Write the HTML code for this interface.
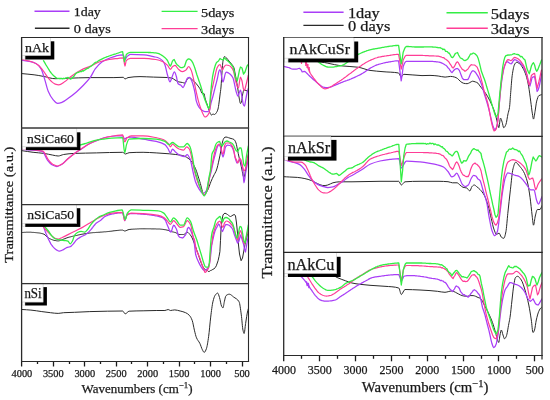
<!DOCTYPE html><html><head><meta charset="utf-8"><style>html,body{margin:0;padding:0;background:#fff;width:550px;height:400px;overflow:hidden}svg{display:block}text{font-family:"Liberation Serif",serif;fill:#1a1a1a;stroke:#1a1a1a;stroke-width:0.25px}</style></head><body>
<svg width="550" height="400" viewBox="0 0 550 400">
<rect width="550" height="400" fill="#fff"/>
<defs>
<clipPath id="cp_nAk"><rect x="21.9" y="37.5" width="226.4" height="90.5"/></clipPath>
<clipPath id="cp_c60"><rect x="21.9" y="128.0" width="226.4" height="76.6"/></clipPath>
<clipPath id="cp_c50"><rect x="21.9" y="204.6" width="226.4" height="79.00000000000003"/></clipPath>
<clipPath id="cp_nSi"><rect x="21.9" y="283.6" width="226.4" height="77.89999999999998"/></clipPath>
<clipPath id="cp_r1"><rect x="284.0" y="37.5" width="257.9" height="98.80000000000001"/></clipPath>
<clipPath id="cp_r2"><rect x="284.0" y="136.3" width="257.9" height="116.1"/></clipPath>
<clipPath id="cp_r3"><rect x="284.0" y="252.4" width="257.9" height="103.1"/></clipPath>
</defs>
<g clip-path="url(#cp_nAk)" fill="none" stroke-linejoin="round" stroke-linecap="round">
<path d="M21.9,73.6 C26.0,74.0 30.0,74.3 34.1,74.8 C37.2,75.2 40.4,75.8 43.5,76.4 C47.4,77.1 51.3,78.7 55.2,78.7 C59.1,78.7 63.1,78.4 67.0,78.3 C74.8,78.0 82.7,77.6 90.5,77.6 C98.3,77.6 106.1,77.6 113.9,77.6 C117.0,77.6 120.2,77.3 123.3,77.3 C123.9,77.3 124.4,79.0 125.0,79.0 C126.0,79.0 127.0,77.8 128.0,77.6 C132.0,76.9 136.0,76.6 140.0,76.6 C144.5,76.6 149.0,77.0 153.5,77.1 C158.2,77.3 162.8,77.3 167.5,77.5 C169.0,77.6 170.4,77.8 171.9,78.1 C172.9,78.3 174.0,79.4 175.0,80.0 C176.3,80.7 177.5,81.6 178.8,81.9 C180.0,82.2 181.3,82.3 182.5,82.5 C183.3,82.7 184.2,83.1 185.0,83.1 C185.8,83.1 186.7,79.5 187.5,78.8 C188.1,78.3 188.8,77.8 189.4,77.8 C190.4,77.8 191.5,79.1 192.5,80.0 C193.8,81.0 195.0,82.3 196.3,83.8 C197.5,85.2 198.8,86.8 200.0,88.8 C200.8,90.2 201.7,93.8 202.5,93.8 C203.0,93.8 203.5,93.5 204.0,93.5 C204.3,93.5 204.7,96.8 205.0,98.0 C205.7,100.5 206.3,102.0 207.0,104.0 C207.7,106.0 208.3,108.1 209.0,110.0 C209.5,111.4 210.0,113.3 210.5,114.0 C210.8,114.5 211.2,115.0 211.5,115.0 C212.0,115.0 212.5,114.0 213.0,114.0 C213.5,114.0 214.0,114.5 214.5,114.5 C215.2,114.5 215.8,113.5 216.5,112.5 C217.0,111.8 217.5,110.7 218.0,109.0 C218.3,107.8 218.7,105.3 219.0,103.0 C219.3,100.7 219.7,97.7 220.0,95.0 C220.3,92.3 220.7,90.5 221.0,87.0 C221.3,83.5 221.7,76.2 222.0,72.0 C222.3,67.8 222.7,62.6 223.0,61.0 C223.5,58.5 224.0,56.5 224.5,56.5 C225.2,56.5 225.8,57.4 226.5,58.0 C227.3,58.8 228.2,60.0 229.0,61.0 C229.8,62.0 230.7,62.9 231.5,64.0 C232.3,65.1 233.2,65.8 234.0,68.0 C234.3,68.9 234.7,71.3 235.0,73.0 C235.5,75.6 236.0,78.2 236.5,81.0 C237.0,83.8 237.5,86.8 238.0,90.0 C238.3,92.2 238.7,95.2 239.0,97.0 C239.5,99.7 240.0,103.5 240.5,103.5 C240.8,103.5 241.2,102.8 241.5,102.0 C241.8,101.2 242.2,96.5 242.5,95.0 C243.0,92.7 243.5,90.0 244.0,90.0 C244.7,90.0 245.3,90.3 246.0,90.5 C246.8,90.7 247.5,91.2 248.3,91.5" stroke="#2a2a2a" stroke-width="1.0"/>
<path d="M21.9,60.2 C24.4,60.6 26.9,60.9 29.4,61.4 C31.7,61.9 34.1,62.5 36.4,63.7 C38.0,64.5 39.5,66.3 41.1,68.9 C42.3,70.9 43.5,75.6 44.7,79.4 C45.9,83.1 47.0,88.5 48.2,91.2 C49.8,94.9 51.3,97.6 52.9,99.4 C54.5,101.2 56.0,103.4 57.6,103.4 C59.2,103.4 60.7,102.8 62.3,102.2 C64.6,101.4 67.0,99.2 69.3,97.5 C71.7,95.8 74.0,93.9 76.4,91.9 C78.7,89.9 81.1,87.7 83.4,85.3 C85.8,82.8 88.1,80.4 90.5,77.1 C92.1,74.9 93.6,70.9 95.2,68.9 C97.5,65.9 99.9,63.4 102.2,61.8 C104.5,60.2 106.9,59.2 109.2,58.3 C112.3,57.1 115.5,55.8 118.6,55.3 C120.2,55.1 121.7,54.8 123.3,54.8 C123.9,54.8 124.4,59.5 125.0,59.5 C125.6,59.5 126.3,57.3 126.9,56.7 C128.1,55.6 129.2,54.3 130.4,54.3 C135.0,54.3 139.5,54.5 144.1,54.8 C147.2,55.0 150.4,56.1 153.5,56.7 C154.8,57.0 156.2,57.1 157.5,57.5 C159.2,58.0 160.8,59.0 162.5,60.6 C163.3,61.4 164.2,63.0 165.0,65.0 C165.8,67.0 166.7,72.3 167.5,75.0 C168.3,77.7 169.2,81.9 170.0,81.9 C170.6,81.9 171.3,78.9 171.9,77.5 C172.7,75.6 173.6,71.9 174.4,71.9 C175.0,71.9 175.7,74.4 176.3,76.3 C176.9,78.1 177.5,83.3 178.1,83.8 C178.9,84.5 179.8,84.5 180.6,85.0 C181.4,85.5 182.3,87.5 183.1,87.5 C183.7,87.5 184.4,85.1 185.0,83.8 C185.8,82.1 186.7,78.7 187.5,78.1 C188.1,77.7 188.8,77.3 189.4,77.3 C190.2,77.3 191.1,79.5 191.9,81.3 C192.5,82.7 193.2,85.1 193.8,87.5 C194.3,89.3 194.7,91.4 195.2,94.0 C195.5,95.8 195.9,99.4 196.2,100.6 C197.2,104.4 198.3,106.3 199.3,107.6 C200.5,109.1 201.6,110.1 202.8,110.7 C203.5,111.1 204.3,111.5 205.0,111.5 C206.0,111.5 207.0,111.5 208.0,111.5 C208.5,111.5 209.0,110.8 209.5,110.0 C210.0,109.2 210.5,105.0 211.0,103.0 C211.7,100.3 212.3,98.5 213.0,96.0 C213.5,94.1 214.0,92.0 214.5,90.0 C215.0,88.0 215.5,86.0 216.0,84.0 C216.5,82.0 217.0,80.2 217.5,78.0 C218.0,75.8 218.5,72.1 219.0,71.0 C219.3,70.3 219.7,69.5 220.0,69.5 C220.3,69.5 220.7,71.5 221.0,73.0 C221.3,74.5 221.7,77.7 222.0,79.0 C222.3,80.3 222.7,82.0 223.0,82.0 C223.3,82.0 223.7,80.1 224.0,79.0 C224.5,77.3 225.0,73.8 225.5,73.0 C225.8,72.5 226.2,72.0 226.5,72.0 C227.2,72.0 227.8,72.6 228.5,73.0 C229.3,73.5 230.2,74.1 231.0,75.0 C231.7,75.7 232.3,76.5 233.0,78.0 C233.5,79.1 234.0,81.8 234.5,84.0 C235.0,86.2 235.5,89.3 236.0,91.0 C236.7,93.2 237.3,96.0 238.0,96.0 C238.5,96.0 239.0,93.1 239.5,92.0 C239.8,91.2 240.2,90.0 240.5,90.0 C241.0,90.0 241.5,94.5 242.0,97.0 C242.5,99.5 243.0,104.2 243.5,105.0 C243.8,105.5 244.2,106.0 244.5,106.0 C244.8,106.0 245.2,102.7 245.5,101.0 C246.0,98.4 246.5,95.1 247.0,93.0 C247.4,91.2 247.9,90.0 248.3,88.5" stroke="#a93ef7" stroke-width="1.25"/>
<path d="M21.9,59.5 C25.2,60.3 28.4,60.7 31.7,61.8 C34.1,62.6 36.4,63.6 38.8,65.4 C40.4,66.6 41.9,69.2 43.5,71.2 C45.5,73.8 47.4,77.4 49.4,79.4 C51.3,81.4 53.3,83.5 55.2,84.1 C56.4,84.5 57.6,84.8 58.8,84.8 C60.7,84.8 62.7,83.0 64.6,81.8 C67.0,80.3 69.3,77.6 71.7,75.9 C74.8,73.7 78.0,71.7 81.1,70.1 C84.2,68.5 87.4,67.5 90.5,66.1 C93.6,64.7 96.7,62.8 99.8,61.8 C102.9,60.8 106.1,60.0 109.2,59.5 C112.3,59.0 115.5,58.7 118.6,58.3 C120.2,58.1 121.7,57.8 123.3,57.8 C123.9,57.8 124.4,66.1 125.0,66.1 C125.4,66.1 125.8,61.2 126.2,60.7 C127.6,59.0 129.0,58.3 130.4,58.3 C135.0,58.3 139.5,58.3 144.1,58.3 C148.0,58.3 151.9,58.9 155.8,59.5 C158.2,59.9 160.5,60.7 162.9,61.8 C164.5,62.5 166.0,63.8 167.6,65.4 C168.5,66.3 169.5,69.3 170.4,69.3 C171.2,69.3 171.9,67.0 172.7,66.5 C173.5,66.0 174.3,65.4 175.1,65.4 C176.1,65.4 177.1,68.0 178.1,68.9 C179.4,70.1 180.8,71.7 182.1,71.7 C183.4,71.7 184.6,70.9 185.9,70.1 C186.8,69.5 187.8,66.5 188.7,66.5 C189.5,66.5 190.3,68.4 191.1,70.1 C191.9,71.7 192.6,75.1 193.4,78.3 C194.2,81.6 195.0,86.4 195.8,90.0 C197.0,95.2 198.1,100.3 199.3,104.1 C200.5,107.9 201.6,111.2 202.8,113.5 C203.5,114.9 204.3,117.0 205.0,117.0 C205.7,117.0 206.3,116.5 207.0,116.0 C207.7,115.5 208.3,114.6 209.0,113.0 C209.3,112.2 209.7,110.4 210.0,108.0 C210.3,105.6 210.7,97.5 211.0,95.0 C211.7,89.9 212.3,88.2 213.0,85.0 C213.7,81.8 214.3,78.8 215.0,76.0 C215.7,73.2 216.3,69.5 217.0,68.0 C217.7,66.5 218.3,65.5 219.0,65.0 C219.3,64.8 219.7,64.5 220.0,64.5 C220.5,64.5 221.0,66.9 221.5,68.0 C221.8,68.7 222.2,70.0 222.5,70.0 C223.0,70.0 223.5,67.7 224.0,67.0 C224.7,66.1 225.3,65.0 226.0,65.0 C227.0,65.0 228.0,65.2 229.0,65.5 C229.8,65.7 230.7,66.6 231.5,67.5 C232.2,68.2 232.8,69.3 233.5,71.0 C234.0,72.3 234.5,75.8 235.0,78.0 C235.4,79.8 235.8,81.6 236.2,83.0 C236.6,84.5 237.1,86.4 237.5,87.0 C237.8,87.5 238.2,88.0 238.5,88.0 C238.8,88.0 239.2,83.8 239.5,82.0 C239.8,80.2 240.2,77.0 240.5,77.0 C241.0,77.0 241.5,79.2 242.0,81.0 C242.5,82.8 243.0,87.9 243.5,89.0 C243.8,89.8 244.2,90.5 244.5,90.5 C244.8,90.5 245.2,88.2 245.5,87.0 C246.0,85.1 246.5,83.1 247.0,81.0 C247.4,79.1 247.9,77.0 248.3,75.0" stroke="#ff3d96" stroke-width="1.2"/>
<path d="M43.5,60.7 L44.7,62.7 L45.8,64.6 L47.0,66.5 L47.9,68.0 L48.9,69.6 L49.8,71.1 L50.8,72.5 L51.7,73.6 L52.7,74.7 L53.7,75.7 L54.7,76.6 L55.6,77.4 L56.6,78.0 L57.6,78.3 L58.6,78.4 L59.5,78.5 L60.5,78.5 L61.5,78.4 L62.4,78.8 L63.4,78.4 L64.3,78.6 L65.3,78.3 L66.2,77.8 L67.2,77.9 L68.1,77.4 L69.3,78.5 L70.5,79.1 L71.7,78.4 L72.8,77.3 L74.0,76.2 L75.2,74.3 L76.3,73.1 L77.5,72.5 L78.5,72.4 L79.5,71.8 L80.5,71.5 L81.4,71.7 L82.4,70.7 L83.4,71.1 L84.4,70.2 L85.4,69.6 L86.4,68.9 L87.5,68.4 L88.5,68.1 L89.5,66.9 L90.5,66.6 L91.4,65.9 L92.4,65.0 L93.3,64.4 L94.3,63.3 L95.2,62.6 L96.2,62.1 L97.2,61.8 L98.2,61.0 L99.2,60.3 L100.2,59.8 L101.2,59.3 L102.2,58.8 L103.2,58.3 L104.2,57.9 L105.2,57.5 L106.2,57.1 L107.2,56.7 L108.2,56.4 L109.2,56.0 L110.1,55.7 L111.1,55.3 L112.0,55.0 L113.0,54.7 L113.9,54.4 L114.8,54.1 L115.8,53.8 L116.7,53.5 L117.7,53.2 L118.6,52.9 L119.6,52.5 L120.6,52.1 L121.6,51.8 L122.6,51.7 L123.5,56.8 L124.5,61.8 L126.2,54.8 L127.2,53.8 L128.3,53.0 L129.3,52.6 L130.4,52.4 L131.3,52.4 L132.2,52.4 L133.1,52.4 L134.1,52.4 L135.0,52.4 L135.9,52.4 L136.8,52.4 L137.7,52.4 L138.6,52.4 L139.5,52.4 L140.4,52.4 L141.4,52.4 L142.3,52.4 L143.2,52.4 L144.1,52.4 L145.0,52.4 L145.9,52.4 L146.8,52.4 L147.7,52.4 L148.6,52.5 L149.5,52.5 L150.4,52.5 L151.3,52.6 L152.2,52.6 L153.1,52.7 L154.0,52.8 L154.9,52.8 L155.8,52.9 L156.8,53.1 L157.8,53.3 L158.8,53.7 L159.9,54.2 L160.9,54.8 L161.9,55.4 L162.9,56.0 L163.8,56.7 L164.8,57.5 L165.7,58.4 L166.7,59.5 L167.6,60.7 L168.5,62.7 L169.5,65.0 L170.4,66.1 L171.4,64.1 L172.3,61.4 L173.2,60.1 L174.2,59.5 L175.8,63.0 L176.9,64.4 L178.1,65.4 L179.1,66.4 L180.2,67.3 L181.2,67.7 L182.3,67.6 L183.4,67.2 L184.5,66.5 L185.4,63.7 L186.4,60.7 L187.6,59.4 L188.7,58.8 L189.6,59.1 L190.6,59.8 L191.5,60.7 L192.7,62.6 L193.9,65.4 L194.9,68.2 L195.9,71.5 L196.9,74.8 L198.1,78.3 L199.3,81.7 L200.5,85.3 L201.7,89.2 L202.8,93.3 L204.0,97.1 L205.0,100.0 L206.0,102.6 L207.0,105.0 L208.5,108.5 L209.5,107.0 L210.5,95.0 L211.5,85.0 L212.5,77.0 L213.5,71.9 L214.5,68.0 L215.5,64.7 L216.5,62.5 L217.5,61.7 L218.5,61.0 L220.0,58.5 L221.5,59.5 L223.0,60.0 L224.5,58.0 L225.5,58.8 L226.5,60.0 L227.8,61.0 L229.0,62.0 L230.2,63.4 L231.5,65.0 L232.5,66.2 L233.5,68.0 L235.0,76.0 L236.0,79.0 L237.2,81.0 L238.5,75.0 L239.5,69.9 L240.5,67.0 L242.0,68.0 L243.5,74.0 L245.0,72.0 L246.0,69.0 L247.0,66.0 L248.3,64.5" stroke="#33ee44" stroke-width="1.3"/>
</g>
<g clip-path="url(#cp_c60)" fill="none" stroke-linejoin="round" stroke-linecap="round">
<path d="M22.2,150.7 C25.8,151.2 29.5,151.9 33.1,152.3 C36.7,152.7 40.4,152.9 44.0,153.4 C46.9,153.8 49.8,154.6 52.7,155.1 C54.5,155.4 56.4,156.0 58.2,156.0 C60.0,156.0 61.8,154.8 63.6,154.5 C67.2,153.9 70.9,153.5 74.5,153.4 C81.8,153.1 89.1,153.1 96.4,152.9 C105.1,152.7 113.9,152.3 122.6,152.3 C123.5,152.3 124.5,154.0 125.4,154.0 C126.6,154.0 127.9,152.8 129.1,152.7 C133.8,152.4 138.4,152.3 143.1,152.3 C147.5,152.3 151.8,152.7 156.2,152.9 C160.6,153.1 164.9,153.4 169.3,153.8 C171.5,154.0 173.6,154.2 175.8,154.5 C178.0,154.8 180.2,155.0 182.4,155.5 C183.8,155.8 185.3,156.5 186.7,157.3 C188.2,158.1 189.6,159.3 191.1,161.0 C192.6,162.7 194.0,165.4 195.5,168.6 C196.9,171.8 198.4,177.4 199.8,181.7 C201.3,186.1 202.7,194.8 204.2,194.8 C205.3,194.8 206.4,192.4 207.5,190.5 C208.7,188.5 209.8,184.3 211.0,181.5 C211.8,179.5 212.7,177.7 213.5,176.0 C214.5,173.9 215.5,172.7 216.5,170.0 C217.3,167.8 218.2,163.7 219.0,160.0 C219.7,157.0 220.3,153.4 221.0,150.0 C221.5,147.4 222.0,143.8 222.5,142.0 C223.0,140.2 223.5,138.4 224.0,138.0 C224.7,137.4 225.3,137.0 226.0,137.0 C226.8,137.0 227.7,137.5 228.5,137.7 C229.3,137.9 230.2,138.2 231.0,138.5 C232.0,138.8 233.0,138.9 234.0,139.5 C234.7,139.9 235.3,141.3 236.0,143.0 C236.5,144.3 237.0,147.7 237.5,150.0 C238.0,152.3 238.5,154.8 239.0,157.0 C239.5,159.2 240.0,160.8 240.5,163.0 C241.0,165.2 241.5,167.6 242.0,170.0 C242.4,171.9 242.8,174.9 243.2,176.0 C243.4,176.6 243.7,177.4 243.9,177.4 C244.6,177.4 245.4,170.3 246.1,166.5 C246.9,162.3 247.7,157.8 248.5,153.4" stroke="#2a2a2a" stroke-width="1.0"/>
<path d="M22.2,149.5 C28.9,150.1 35.5,150.0 42.2,151.4 C44.0,151.8 45.8,158.0 47.6,160.3 C49.0,162.1 50.5,164.1 51.9,164.8 C53.6,165.7 55.2,166.5 56.9,166.5 C58.6,166.5 60.2,165.3 61.9,164.3 C63.7,163.2 65.5,160.9 67.3,159.3 C69.5,157.4 71.7,155.6 73.9,154.0 C76.1,152.3 78.4,150.9 80.6,149.4 C83.7,147.4 86.7,145.1 89.8,143.5 C92.7,142.0 95.6,140.9 98.5,139.8 C101.4,138.7 104.4,137.5 107.3,137.0 C110.2,136.5 113.1,136.1 116.0,136.0 C118.2,135.9 120.4,135.8 122.6,135.8 C123.3,135.8 124.0,139.0 124.7,139.0 C125.4,139.0 126.2,137.7 126.9,137.5 C128.4,137.2 129.8,137.0 131.3,137.0 C135.2,137.0 139.2,138.5 143.1,139.2 C147.5,140.0 151.8,140.4 156.2,141.4 C159.1,142.1 162.0,142.8 164.9,144.6 C166.0,145.3 167.1,147.3 168.2,149.0 C168.9,150.1 169.7,152.9 170.4,152.9 C171.1,152.9 171.8,149.0 172.5,149.0 C173.6,149.0 174.7,151.4 175.8,152.3 C177.3,153.5 178.7,154.9 180.2,155.5 C181.6,156.0 183.1,156.6 184.5,156.6 C185.4,156.6 186.3,154.5 187.2,154.5 C188.1,154.5 189.1,156.7 190.0,158.8 C191.1,161.3 192.2,168.5 193.3,173.0 C194.0,176.0 194.8,179.7 195.5,181.7 C196.6,184.6 197.6,186.6 198.7,188.3 C200.2,190.6 201.6,193.7 203.1,193.7 C204.2,193.7 205.3,192.3 206.4,190.5 C207.3,189.1 208.1,183.0 209.0,179.5 C209.8,176.2 210.7,173.5 211.5,170.0 C212.0,167.9 212.5,165.2 213.0,163.0 C213.7,160.1 214.3,157.5 215.0,155.0 C215.7,152.5 216.3,149.6 217.0,148.0 C217.7,146.4 218.3,144.5 219.0,144.5 C219.5,144.5 220.0,145.8 220.5,147.0 C221.0,148.2 221.5,152.2 222.0,154.0 C222.3,155.2 222.7,157.0 223.0,157.0 C223.3,157.0 223.7,155.2 224.0,154.0 C224.5,152.2 225.0,147.8 225.5,147.0 C226.2,145.9 226.8,145.0 227.5,145.0 C228.3,145.0 229.2,145.2 230.0,145.5 C230.7,145.7 231.3,146.2 232.0,147.0 C232.7,147.8 233.3,149.8 234.0,152.0 C234.5,153.7 235.0,157.3 235.5,159.0 C236.0,160.7 236.5,163.0 237.0,163.0 C237.5,163.0 238.0,161.7 238.5,161.0 C239.0,160.3 239.5,159.0 240.0,159.0 C240.5,159.0 241.0,162.1 241.5,164.0 C242.0,165.9 242.5,167.4 243.0,171.0 C243.3,173.2 243.6,182.8 243.9,182.8 C244.5,182.8 245.0,176.1 245.6,173.0 C246.6,167.7 247.5,162.8 248.5,157.7" stroke="#a93ef7" stroke-width="1.25"/>
<path d="M22.2,149.0 C29.1,149.7 36.0,149.5 42.9,151.2 C44.7,151.6 46.6,157.6 48.4,159.9 C49.8,161.7 51.3,163.5 52.7,164.3 C54.3,165.1 55.9,166.0 57.5,166.0 C59.2,166.0 60.8,164.8 62.5,163.8 C64.3,162.7 66.2,160.4 68.0,158.8 C70.2,156.9 72.3,155.0 74.5,153.4 C76.7,151.8 78.9,150.4 81.1,149.0 C84.0,147.1 86.9,145.0 89.8,143.5 C92.7,142.0 95.6,140.9 98.5,139.8 C101.4,138.7 104.4,137.7 107.3,137.0 C110.2,136.4 113.1,135.9 116.0,135.5 C118.2,135.2 120.4,134.8 122.6,134.8 C123.3,134.8 124.0,142.0 124.7,142.0 C125.4,142.0 126.2,138.7 126.9,138.1 C128.4,136.9 129.8,135.9 131.3,135.9 C135.2,135.9 139.2,135.9 143.1,135.9 C147.5,135.9 151.8,136.9 156.2,137.7 C158.7,138.2 161.3,138.7 163.8,139.8 C165.3,140.4 166.7,141.9 168.2,143.5 C168.9,144.3 169.7,146.8 170.4,146.8 C171.1,146.8 171.8,144.2 172.5,144.2 C173.6,144.2 174.7,146.0 175.8,146.8 C176.9,147.6 178.0,148.6 179.1,149.0 C180.6,149.5 182.0,150.1 183.5,150.1 C184.6,150.1 185.6,146.8 186.7,146.8 C187.6,146.8 188.4,147.8 189.3,149.0 C190.3,150.3 191.2,155.7 192.2,159.9 C192.9,163.1 193.7,167.8 194.4,170.8 C195.5,175.2 196.5,178.7 197.6,181.7 C198.7,184.7 199.8,187.3 200.9,189.4 C202.0,191.5 203.1,194.8 204.2,194.8 C205.3,194.8 206.4,192.3 207.5,189.4 C208.4,187.0 209.4,177.5 210.3,173.0 C210.5,171.9 210.8,171.1 211.0,170.0 C211.7,167.0 212.3,163.2 213.0,160.0 C213.7,156.8 214.3,153.1 215.0,151.0 C215.7,148.9 216.3,147.0 217.0,146.0 C217.7,145.0 218.3,144.0 219.0,144.0 C219.3,144.0 219.7,144.5 220.0,145.0 C220.5,145.7 221.0,148.2 221.5,150.0 C221.8,151.2 222.2,154.0 222.5,154.0 C222.8,154.0 223.2,153.6 223.5,153.0 C223.8,152.4 224.2,146.9 224.5,146.0 C225.2,144.2 225.8,143.0 226.5,143.0 C227.3,143.0 228.2,143.0 229.0,143.0 C229.8,143.0 230.7,144.0 231.5,145.0 C232.2,145.8 232.8,147.0 233.5,149.0 C234.0,150.5 234.5,155.5 235.0,157.0 C235.5,158.5 236.0,159.0 236.5,160.0 C237.0,161.0 237.5,163.0 238.0,163.0 C238.5,163.0 239.0,158.0 239.5,158.0 C240.0,158.0 240.5,159.0 241.0,160.0 C241.5,161.0 242.0,164.2 242.5,166.0 C243.0,167.8 243.5,171.0 244.0,171.0 C244.5,171.0 245.1,169.8 245.6,168.6 C246.6,166.5 247.5,158.5 248.5,153.4" stroke="#ff3d96" stroke-width="1.2"/>
<path d="M78.0,145.6 C80.5,144.9 83.0,144.2 85.5,143.5 C88.4,142.6 91.3,141.4 94.2,140.7 C97.1,140.0 100.0,139.6 102.9,139.2 C105.8,138.8 108.7,138.3 111.6,138.1 C115.3,137.9 118.9,137.7 122.6,137.7 C123.3,137.7 124.0,152.9 124.7,152.9 C125.3,152.9 125.9,146.4 126.5,144.6 C127.4,142.1 128.2,139.3 129.1,139.2 C132.7,138.6 136.4,138.5 140.0,138.5 C141.0,138.5 142.1,138.5 143.1,138.5 C147.5,138.5 151.8,138.8 156.2,139.2 C159.1,139.5 162.0,140.3 164.9,141.4 C166.4,142.0 167.8,144.6 169.3,144.6 C170.4,144.6 171.4,142.5 172.5,142.5 C173.6,142.5 174.7,143.9 175.8,144.6 C176.9,145.3 178.0,146.8 179.1,146.8 C180.6,146.8 182.0,146.8 183.5,146.8 C184.7,146.8 186.0,143.5 187.2,143.5 C188.1,143.5 189.1,145.1 190.0,146.8 C190.7,148.2 191.5,152.0 192.2,155.5 C192.9,159.0 193.7,165.4 194.4,168.6 C195.5,173.3 196.5,176.1 197.6,179.5 C198.7,183.0 199.8,186.8 200.9,189.4 C202.0,192.0 203.1,195.9 204.2,195.9 C205.1,195.9 205.9,193.2 206.8,190.5 C207.5,188.2 208.3,181.3 209.0,177.4 C209.5,174.7 210.0,173.4 210.5,170.0 C211.0,166.6 211.5,155.7 212.0,154.0 C212.7,151.7 213.3,151.6 214.0,150.0 C214.7,148.4 215.3,145.0 216.0,144.0 C216.7,143.0 217.3,142.3 218.0,142.0 C218.5,141.8 219.0,141.5 219.5,141.5 C220.0,141.5 220.5,144.3 221.0,145.0 C221.3,145.5 221.7,146.0 222.0,146.0 C222.5,146.0 223.0,144.7 223.5,144.0 C224.0,143.3 224.5,142.4 225.0,142.0 C225.7,141.5 226.3,141.0 227.0,141.0 C227.8,141.0 228.7,141.6 229.5,142.0 C230.2,142.3 230.8,142.6 231.5,143.0 C232.2,143.4 232.8,144.0 233.5,145.0 C234.0,145.7 234.5,147.5 235.0,148.5 C235.5,149.5 236.0,151.0 236.5,151.0 C237.0,151.0 237.5,151.0 238.0,151.0 C238.5,151.0 239.0,148.0 239.5,148.0 C240.0,148.0 240.5,148.0 241.0,148.0 C241.5,148.0 242.0,153.2 242.5,156.0 C243.0,158.8 243.5,164.2 244.0,165.0 C244.3,165.5 244.7,166.0 245.0,166.0 C245.5,166.0 246.0,159.0 246.5,156.0 C247.1,152.4 247.7,149.3 248.3,146.0" stroke="#33ee44" stroke-width="1.3"/>
</g>
<g clip-path="url(#cp_c50)" fill="none" stroke-linejoin="round" stroke-linecap="round">
<path d="M21.5,232.5 L22.5,232.5 L23.6,232.4 L24.6,232.3 L25.6,232.3 L26.6,232.2 L27.7,232.2 L28.7,232.2 L29.7,232.2 L30.6,232.2 L31.6,232.3 L32.6,232.4 L33.5,232.4 L34.5,232.5 L35.5,232.6 L36.5,232.7 L37.5,232.8 L38.4,232.9 L39.4,233.0 L40.4,233.2 L41.3,233.4 L42.2,233.6 L43.1,233.9 L44.0,234.2 L45.0,234.9 L45.9,235.9 L46.9,236.8 L47.8,237.4 L48.7,238.0 L49.6,238.6 L50.5,239.0 L51.6,239.5 L52.7,239.9 L53.8,240.3 L54.9,240.5 L55.8,240.6 L56.7,240.8 L57.6,240.9 L58.5,240.9 L59.6,240.7 L60.7,240.3 L61.8,239.9 L62.9,239.4 L63.9,239.0 L64.9,238.6 L66.0,238.2 L67.0,237.8 L68.0,237.5 L68.9,237.2 L69.8,237.0 L70.7,236.8 L71.7,236.5 L72.6,236.3 L73.5,236.1 L74.4,235.9 L75.3,235.7 L76.3,235.5 L77.2,235.3 L78.2,235.0 L79.2,234.8 L80.1,234.6 L81.1,234.4 L82.1,234.2 L83.0,234.1 L84.0,233.9 L85.0,233.7 L85.9,233.6 L86.9,233.4 L87.9,233.3 L88.8,233.2 L89.8,233.0 L90.8,232.9 L91.7,232.8 L92.7,232.7 L93.6,232.6 L94.5,232.6 L95.4,232.5 L96.3,232.4 L97.3,232.4 L98.2,232.3 L99.1,232.3 L100.0,232.2 L100.9,232.1 L101.8,232.1 L102.7,232.0 L103.7,231.9 L104.6,231.8 L105.5,231.8 L106.4,231.7 L107.3,231.6 L108.3,231.5 L109.2,231.4 L110.2,231.3 L111.1,231.2 L112.1,231.1 L113.0,230.9 L114.0,230.8 L114.9,230.7 L115.9,230.6 L116.9,230.5 L117.8,230.4 L118.8,230.3 L119.7,230.2 L120.7,230.1 L121.6,230.1 L122.6,230.1 L123.7,230.6 L124.7,231.0 L125.8,230.8 L126.9,230.3 L128.0,229.8 L129.1,229.5 L130.0,229.4 L131.0,229.3 L131.9,229.2 L132.8,229.2 L133.8,229.1 L134.7,229.1 L135.6,229.0 L136.6,229.0 L137.5,228.9 L138.4,228.9 L139.4,228.8 L140.3,228.8 L141.2,228.8 L142.2,228.8 L143.1,228.8 L144.0,228.8 L144.9,228.8 L145.8,228.8 L146.7,228.8 L147.6,228.8 L148.5,228.8 L149.4,228.8 L150.3,228.8 L151.2,228.9 L152.1,228.9 L153.0,228.9 L153.9,228.9 L154.8,228.9 L155.7,228.9 L156.6,229.0 L157.5,229.0 L158.4,229.0 L159.4,229.0 L160.3,229.1 L161.3,229.2 L162.3,229.3 L163.2,229.4 L164.2,229.6 L165.2,229.7 L166.1,229.9 L167.1,230.1 L168.2,230.4 L169.3,230.8 L170.4,231.2 L171.5,231.6 L172.6,231.9 L173.7,232.1 L174.7,232.4 L175.8,232.7 L176.9,233.3 L178.0,234.1 L179.1,234.5 L180.2,234.5 L181.3,234.5 L182.4,234.5 L183.5,234.5 L184.4,234.2 L185.3,233.4 L186.3,232.6 L187.2,232.3 L188.2,232.6 L189.1,233.5 L190.1,234.7 L191.1,236.0 L192.2,238.0 L193.3,240.7 L194.4,243.6 L195.5,246.4 L196.5,249.4 L197.6,252.4 L198.7,255.7 L199.8,259.2 L200.9,262.2 L201.9,264.7 L202.9,266.9 L203.9,268.4 L205.1,269.5 L206.3,270.1 L207.3,270.4 L208.2,271.4 L209.2,271.5 L210.4,270.6 L211.6,270.2 L212.8,269.4 L214.0,268.8 L215.2,267.7 L216.3,265.8 L218.1,260.6 L219.0,256.6 L219.9,251.7 L220.5,240.3 L221.0,229.7 L222.0,220.0 L223.0,215.0 L224.0,213.7 L225.0,213.2 L226.2,213.7 L227.5,214.5 L228.5,215.3 L229.5,216.1 L230.5,216.5 L231.8,215.9 L233.0,215.0 L234.5,214.5 L235.5,216.0 L236.5,223.0 L237.5,233.0 L238.5,245.0 L239.5,254.0 L241.1,260.7 L242.5,258.0 L244.0,250.0 L245.0,244.7 L246.0,240.0 L247.2,235.8 L248.3,232.0" stroke="#2a2a2a" stroke-width="1.0"/>
<path d="M41.5,223.5 L43.3,226.6 L44.3,228.8 L45.2,231.4 L46.2,233.9 L47.2,236.2 L48.1,238.5 L49.1,240.5 L50.1,242.4 L51.0,244.1 L52.0,245.5 L52.9,246.6 L53.8,247.6 L54.7,248.5 L55.6,249.2 L56.5,249.9 L57.5,250.5 L58.4,250.9 L59.3,251.1 L60.2,251.0 L61.1,250.7 L62.0,250.3 L62.9,249.9 L63.8,249.4 L64.7,248.8 L65.6,248.2 L66.5,247.7 L67.4,247.4 L68.3,247.2 L69.3,247.0 L70.2,246.7 L71.2,246.1 L72.1,245.1 L73.1,244.1 L74.0,243.0 L74.9,241.8 L75.8,240.7 L76.7,239.7 L77.8,238.8 L78.9,238.1 L80.0,237.4 L81.1,236.8 L82.2,236.2 L83.3,235.7 L84.4,235.2 L85.5,234.6 L86.7,233.8 L87.9,232.8 L89.1,231.7 L90.0,230.7 L90.9,229.7 L91.8,228.5 L92.7,227.4 L93.6,226.2 L94.6,225.0 L95.5,223.9 L96.4,223.0 L97.6,222.2 L98.8,221.5 L100.0,220.8 L101.0,220.0 L102.0,219.0 L103.1,218.0 L104.1,217.1 L105.1,216.4 L106.0,216.0 L107.0,215.6 L107.9,215.2 L108.8,214.9 L109.7,214.6 L110.7,214.4 L111.6,214.2 L112.5,214.0 L113.4,213.8 L114.3,213.7 L115.3,213.5 L116.2,213.3 L117.1,213.2 L118.0,213.0 L118.9,212.9 L119.8,212.8 L120.8,212.8 L121.7,212.7 L122.6,212.7 L123.7,216.7 L124.7,220.7 L125.8,217.9 L126.9,214.8 L128.0,214.2 L129.1,213.8 L130.2,213.6 L131.3,213.5 L132.2,213.5 L133.1,213.5 L134.0,213.6 L134.9,213.6 L135.8,213.6 L136.7,213.7 L137.7,213.8 L138.6,213.8 L139.5,213.9 L140.4,214.0 L141.3,214.0 L142.2,214.1 L143.1,214.2 L144.0,214.3 L144.9,214.4 L145.8,214.4 L146.7,214.5 L147.6,214.6 L148.5,214.7 L149.4,214.8 L150.3,215.0 L151.2,215.1 L152.1,215.2 L153.0,215.4 L153.9,215.5 L154.8,215.7 L155.7,215.8 L156.6,216.0 L157.5,216.2 L158.4,216.4 L159.3,216.6 L160.2,216.9 L161.1,217.2 L162.0,217.5 L162.9,218.0 L163.8,218.5 L164.7,219.5 L165.7,220.7 L166.6,223.3 L167.5,225.4 L168.6,228.0 L169.7,231.3 L170.8,232.1 L171.7,230.6 L172.7,227.1 L173.6,225.2 L174.5,225.6 L175.4,227.2 L176.3,228.8 L177.2,231.3 L178.2,235.3 L179.1,236.7 L180.2,237.5 L181.3,237.6 L182.4,238.0 L183.5,237.4 L184.5,236.0 L185.6,234.8 L186.6,232.6 L187.5,228.5 L188.5,227.3 L189.8,228.4 L191.1,231.6 L192.0,233.7 L193.0,236.4 L193.9,240.0 L195.6,254.2 L196.8,258.0 L198.0,260.7 L199.0,262.9 L200.0,264.9 L201.0,266.6 L202.0,268.1 L202.9,269.5 L203.9,270.1 L205.1,270.0 L206.3,269.6 L207.4,268.8 L208.6,267.2 L209.5,263.6 L210.4,257.7 L211.6,245.9 L213.0,239.0 L214.0,234.6 L215.0,231.0 L216.0,228.8 L217.0,227.0 L218.5,224.0 L219.5,225.0 L221.0,229.0 L222.5,231.5 L224.0,228.0 L225.0,225.7 L226.0,224.5 L227.2,224.7 L228.5,225.0 L229.8,225.8 L231.0,227.0 L232.0,228.2 L233.0,230.0 L234.5,235.0 L236.0,239.0 L237.5,243.0 L239.0,241.0 L240.5,235.0 L242.0,239.0 L243.5,244.0 L244.5,249.0 L245.5,252.0 L246.5,246.0 L247.4,240.9 L248.3,236.0" stroke="#a93ef7" stroke-width="1.25"/>
<path d="M41.5,223.5 C42.1,224.5 42.7,225.7 43.3,226.6 C44.5,228.3 45.7,229.7 46.9,231.0 C48.4,232.6 49.8,234.1 51.3,235.4 C52.5,236.5 53.7,237.9 54.9,238.3 C56.1,238.7 57.3,239.0 58.5,239.0 C59.7,239.0 61.0,238.0 62.2,237.5 C64.1,236.6 66.1,235.6 68.0,234.6 C70.4,233.4 72.9,232.2 75.3,231.0 C77.7,229.8 80.1,228.7 82.5,227.4 C84.9,226.1 87.4,224.5 89.8,223.0 C91.7,221.8 93.7,220.5 95.6,219.4 C97.1,218.6 98.5,217.9 100.0,217.2 C101.7,216.4 103.3,215.6 105.0,215.0 C107.2,214.2 109.4,213.3 111.6,213.1 C115.3,212.7 118.9,212.4 122.6,212.4 C123.3,212.4 124.0,220.7 124.7,220.7 C125.4,220.7 126.2,216.0 126.9,215.3 C128.4,214.0 129.8,213.1 131.3,213.1 C135.2,213.1 139.2,213.4 143.1,213.7 C148.2,214.0 153.3,214.4 158.4,215.3 C160.2,215.6 162.0,216.4 163.8,217.5 C164.9,218.2 166.0,219.6 167.1,220.7 C168.2,221.8 169.3,224.4 170.4,224.4 C171.5,224.4 172.5,220.7 173.6,220.7 C174.7,220.7 175.8,222.9 176.9,224.0 C178.0,225.1 179.1,227.3 180.2,227.3 C181.3,227.3 182.4,227.0 183.5,226.6 C184.7,226.1 186.0,220.7 187.2,220.7 C188.4,220.7 189.5,222.7 190.7,225.1 C191.6,226.9 192.4,234.5 193.3,237.1 C193.7,238.3 194.1,238.7 194.5,240.0 C195.1,241.9 195.6,247.6 196.2,249.5 C197.2,252.9 198.2,253.9 199.2,256.5 C200.2,259.0 201.1,262.1 202.1,264.8 C202.7,266.5 203.3,268.1 203.9,269.6 C204.3,270.6 204.7,272.5 205.1,272.5 C205.7,272.5 206.3,271.5 206.9,270.7 C207.5,270.0 208.0,269.3 208.6,267.8 C209.1,266.5 209.6,263.3 210.1,258.9 C210.4,256.3 210.7,246.8 211.0,245.9 C211.2,245.4 211.3,245.4 211.5,245.0 C212.0,243.7 212.5,237.3 213.0,235.0 C213.7,231.9 214.3,229.8 215.0,228.0 C215.7,226.2 216.3,224.4 217.0,223.5 C217.7,222.6 218.3,221.9 219.0,221.5 C219.3,221.3 219.7,221.0 220.0,221.0 C220.5,221.0 221.0,224.0 221.5,225.0 C222.0,226.0 222.5,227.5 223.0,227.5 C223.5,227.5 224.0,223.8 224.5,223.0 C225.2,222.0 225.8,221.0 226.5,221.0 C227.3,221.0 228.2,221.5 229.0,222.0 C229.7,222.4 230.3,223.3 231.0,224.0 C231.7,224.7 232.3,225.3 233.0,226.5 C233.5,227.4 234.0,229.4 234.5,231.0 C235.0,232.6 235.5,234.5 236.0,236.0 C236.5,237.5 237.0,240.0 237.5,240.0 C238.0,240.0 238.5,236.6 239.0,235.0 C239.5,233.4 240.0,230.5 240.5,230.5 C240.8,230.5 241.2,231.9 241.5,233.0 C242.0,234.6 242.5,238.3 243.0,240.0 C243.5,241.7 244.0,244.0 244.5,244.0 C245.0,244.0 245.5,240.0 246.0,238.0 C246.8,235.0 247.5,232.0 248.3,229.0" stroke="#ff3d96" stroke-width="1.2"/>
<path d="M43.0,224.5 C43.6,225.2 44.1,225.9 44.7,226.6 C45.9,228.1 47.2,229.4 48.4,231.0 C49.6,232.6 50.8,234.9 52.0,236.1 C53.2,237.3 54.4,238.6 55.6,239.0 C57.3,239.6 59.0,239.8 60.7,240.0 C62.2,240.2 63.6,240.3 65.1,240.5 C66.1,240.7 67.0,240.8 68.0,241.2 C68.7,241.5 69.5,243.8 70.2,243.8 C70.9,243.8 71.7,242.4 72.4,241.2 C73.1,240.0 73.8,236.4 74.5,235.4 C75.5,233.9 76.5,233.0 77.5,232.5 C78.7,231.9 79.9,231.3 81.1,231.3 C82.3,231.3 83.5,232.2 84.7,232.2 C85.7,232.2 86.6,230.6 87.6,229.5 C88.6,228.4 89.5,226.5 90.5,225.2 C91.7,223.6 93.0,222.0 94.2,220.8 C95.6,219.4 97.1,218.0 98.5,217.2 C99.6,216.6 100.7,216.2 101.8,215.7 C104.4,214.6 106.9,213.2 109.5,212.4 C111.7,211.8 113.8,211.3 116.0,210.9 C118.0,210.5 120.1,209.8 122.1,209.8 C123.1,209.8 124.2,219.6 125.2,219.6 C125.9,219.6 126.7,214.1 127.4,213.1 C128.7,211.3 130.0,209.8 131.3,209.8 C135.2,209.8 139.2,210.1 143.1,210.3 C148.2,210.5 153.3,210.5 158.4,210.9 C160.2,211.0 162.0,211.9 163.8,213.1 C164.9,213.8 166.0,216.1 167.1,217.5 C168.2,218.9 169.3,221.8 170.4,221.8 C171.5,221.8 172.5,217.9 173.6,217.9 C174.7,217.9 175.8,219.6 176.9,220.7 C178.0,221.8 179.1,225.1 180.2,225.1 C181.3,225.1 182.4,225.1 183.5,225.1 C184.7,225.1 186.0,217.9 187.2,217.9 C188.4,217.9 189.5,219.8 190.7,221.8 C191.6,223.3 192.4,227.9 193.3,230.5 C194.5,234.0 195.6,236.5 196.8,240.0 C197.4,241.8 198.0,243.9 198.6,245.9 C199.6,249.1 200.5,252.2 201.5,255.4 C202.3,258.1 203.1,261.6 203.9,263.6 C204.5,265.1 205.1,267.2 205.7,267.2 C206.5,267.2 207.2,267.2 208.0,267.2 C208.4,267.2 208.8,265.6 209.2,263.6 C209.5,262.1 209.8,255.7 210.1,251.8 C210.4,247.9 210.7,242.8 211.0,240.0 C211.3,236.9 211.7,234.5 212.0,233.0 C212.7,230.1 213.3,229.2 214.0,227.0 C214.7,224.8 215.3,221.0 216.0,220.0 C216.7,219.0 217.3,218.6 218.0,218.0 C218.7,217.4 219.3,216.5 220.0,216.5 C220.5,216.5 221.0,218.9 221.5,220.0 C221.8,220.7 222.2,222.0 222.5,222.0 C223.0,222.0 223.5,218.9 224.0,218.5 C224.7,217.9 225.3,217.5 226.0,217.5 C226.8,217.5 227.7,218.0 228.5,218.5 C229.2,218.9 229.8,220.2 230.5,221.0 C231.2,221.8 231.8,222.3 232.5,223.5 C233.0,224.4 233.5,226.3 234.0,228.0 C234.5,229.7 235.0,232.4 235.5,234.0 C236.0,235.6 236.5,238.0 237.0,238.0 C237.5,238.0 238.0,234.9 238.5,233.0 C239.0,231.1 239.5,226.5 240.0,226.5 C240.4,226.5 240.8,226.7 241.2,227.0 C241.6,227.3 242.1,230.9 242.5,233.0 C243.0,235.5 243.5,239.6 244.0,241.0 C244.3,241.9 244.7,243.0 245.0,243.0 C245.5,243.0 246.0,237.7 246.5,235.0 C247.1,231.7 247.7,228.3 248.3,225.0" stroke="#33ee44" stroke-width="1.3"/>
</g>
<g clip-path="url(#cp_nSi)" fill="none" stroke-linejoin="round" stroke-linecap="round">
<path d="M22.2,309.5 C25.1,309.7 28.0,309.8 30.9,310.1 C34.5,310.4 38.2,311.1 41.8,311.6 C44.7,312.0 47.6,312.4 50.5,312.7 C53.1,313.0 55.6,313.4 58.2,313.4 C60.0,313.4 61.8,312.8 63.6,312.7 C67.2,312.5 70.9,312.4 74.5,312.3 C79.6,312.1 84.7,311.8 89.8,311.6 C95.6,311.4 101.5,311.3 107.3,311.2 C112.4,311.1 117.5,311.0 122.6,311.0 C123.5,311.0 124.3,313.8 125.2,313.8 C126.5,313.8 127.8,311.3 129.1,311.2 C133.8,310.9 138.4,310.9 143.1,310.8 C147.5,310.7 151.8,310.5 156.2,310.5 C159.1,310.5 162.0,310.5 164.9,310.5 C166.0,310.5 167.1,309.5 168.2,309.5 C168.9,309.5 169.7,310.5 170.4,310.5 C171.8,310.5 173.3,309.9 174.7,309.9 C176.5,309.9 178.4,310.6 180.2,311.0 C182.0,311.4 183.8,311.9 185.6,312.7 C186.8,313.2 188.1,314.0 189.3,315.3 C190.3,316.3 191.2,317.9 192.2,320.4 C192.9,322.3 193.7,327.3 194.4,330.2 C195.1,333.0 195.8,336.2 196.5,337.8 C197.6,340.4 198.7,341.1 199.8,343.3 C200.7,345.0 201.5,348.2 202.4,349.8 C203.0,350.9 203.6,352.4 204.2,352.4 C204.9,352.4 205.7,350.6 206.4,348.7 C207.1,346.8 207.9,341.8 208.6,336.7 C209.3,331.9 210.0,322.7 210.7,317.1 C211.4,311.2 212.2,304.8 212.9,301.8 C213.6,298.8 214.4,296.3 215.1,295.3 C216.0,294.1 216.8,293.1 217.7,293.1 C218.3,293.1 218.9,295.7 219.5,297.5 C220.2,299.6 220.9,304.9 221.6,306.2 C222.1,307.0 222.5,307.9 223.0,307.9 C223.4,307.9 223.9,303.6 224.3,301.8 C224.9,299.5 225.4,296.2 226.0,295.7 C227.1,294.7 228.2,294.2 229.3,294.2 C230.7,294.2 232.2,295.9 233.6,297.0 C235.4,298.4 237.3,298.7 239.1,301.8 C239.8,303.0 240.6,309.6 241.3,314.9 C241.9,319.0 242.4,327.7 243.0,330.2 C243.4,331.8 243.7,333.5 244.1,333.5 C244.6,333.5 245.1,326.7 245.6,323.6 C246.3,319.0 247.1,313.3 247.8,310.5 C248.0,309.6 248.3,309.1 248.5,308.4" stroke="#2a2a2a" stroke-width="1.0"/>
</g>
<g clip-path="url(#cp_r1)" fill="none" stroke-linejoin="round" stroke-linecap="round">
<path d="M318.0,61.8 C319.1,61.9 320.2,62.0 321.3,62.1 C323.5,62.3 325.6,62.8 327.8,63.2 C330.0,63.6 332.2,64.2 334.4,64.6 C336.9,65.1 339.5,65.6 342.0,65.9 C347.3,66.5 352.6,66.5 357.9,67.2 C361.9,67.7 366.0,69.8 370.0,70.4 C374.3,71.0 378.7,71.3 383.0,71.7 C388.2,72.2 393.4,72.0 398.6,73.0 C399.5,73.2 400.3,76.9 401.2,76.9 C402.1,76.9 402.9,74.3 403.8,74.3 C409.9,74.3 415.9,75.6 422.0,75.6 C424.7,75.6 427.3,75.4 430.0,75.4 C432.7,75.4 435.5,75.7 438.2,76.0 C440.5,76.2 442.8,77.1 445.1,77.1 C446.9,77.1 448.8,76.4 450.6,76.4 C452.0,76.4 453.3,76.7 454.7,77.1 C455.6,77.3 456.6,77.9 457.5,78.5 C458.4,79.1 459.3,80.5 460.2,81.2 C461.4,82.1 462.5,83.1 463.7,83.3 C464.8,83.5 466.0,83.7 467.1,83.7 C468.0,83.7 468.9,83.0 469.8,82.6 C470.7,82.2 471.7,81.2 472.6,81.2 C473.5,81.2 474.4,81.6 475.3,81.9 C476.2,82.2 477.2,82.5 478.1,83.3 C478.5,83.6 478.9,84.5 479.3,85.1 C480.7,87.1 482.1,88.5 483.5,90.4 C484.9,92.4 486.4,94.3 487.8,96.8 C489.2,99.2 490.6,102.1 492.0,105.3 C493.1,107.8 494.1,110.3 495.2,113.8 C495.9,116.1 496.6,119.6 497.3,122.3 C497.8,124.2 498.3,127.7 498.8,127.7 C499.4,127.7 499.9,118.1 500.5,118.1 C501.1,118.1 501.6,120.6 502.2,122.3 C502.7,123.8 503.2,127.7 503.7,127.7 C504.4,127.7 505.2,126.2 505.9,124.5 C506.6,122.9 507.3,117.0 508.0,113.8 C508.5,111.5 509.0,110.6 509.5,107.4 C509.9,104.8 510.3,97.3 510.7,92.6 C511.2,86.7 511.7,79.0 512.2,75.5 C512.9,70.4 513.7,66.3 514.4,64.9 C515.1,63.5 515.8,62.3 516.5,62.3 C517.6,62.3 518.6,63.1 519.7,63.8 C520.8,64.5 521.8,66.3 522.9,68.1 C524.0,69.9 525.0,72.3 526.1,75.5 C526.9,78.0 527.8,81.7 528.6,86.2 C529.3,90.0 530.0,96.0 530.7,101.1 C531.3,105.2 531.8,110.5 532.4,113.8 C532.8,115.9 533.1,119.1 533.5,119.1 C534.0,119.1 534.5,114.4 535.0,111.7 C535.6,108.6 536.1,103.2 536.7,101.1 C537.4,98.5 538.1,96.2 538.8,95.7 C539.7,95.1 540.6,95.0 541.5,94.7" stroke="#2a2a2a" stroke-width="1.0"/>
<path d="M283.9,66.5 L284.8,66.7 L285.7,66.9 L286.7,67.1 L287.6,67.3 L288.5,67.5 L289.6,67.9 L290.7,68.5 L291.8,69.0 L292.9,69.2 L294.0,69.2 L295.1,69.2 L296.2,69.2 L297.3,69.0 L298.4,68.5 L299.5,68.3 L301.1,69.7 L302.2,71.9 L303.3,71.7 L304.4,71.4 L305.3,71.8 L306.2,72.6 L307.1,73.5 L308.2,74.6 L309.3,75.7 L310.4,76.8 L311.5,77.8 L312.5,78.7 L313.6,79.7 L314.7,80.6 L315.8,81.6 L316.9,82.6 L318.0,83.6 L319.1,84.5 L320.2,85.3 L321.3,86.1 L322.4,86.8 L323.5,87.2 L324.6,87.4 L325.6,87.6 L326.7,87.7 L327.8,87.6 L328.9,87.4 L330.0,87.2 L331.1,86.9 L332.2,86.5 L333.3,86.0 L334.4,85.5 L335.3,85.1 L336.3,84.7 L337.2,84.3 L338.2,83.9 L339.1,83.5 L340.1,83.1 L341.1,82.7 L342.0,82.3 L343.0,81.9 L343.9,81.5 L344.9,81.2 L345.9,80.8 L346.9,80.5 L347.8,80.1 L348.8,79.8 L349.8,79.4 L350.8,79.0 L351.7,78.6 L352.7,78.2 L353.6,77.8 L354.6,77.4 L355.5,76.9 L356.5,76.5 L357.4,76.0 L358.4,75.5 L359.3,75.1 L360.3,74.6 L361.2,74.1 L362.2,73.5 L363.1,73.0 L364.1,72.4 L365.1,71.8 L366.0,71.1 L367.0,70.4 L368.0,69.7 L368.9,69.0 L369.9,68.4 L370.9,67.8 L371.9,67.3 L372.9,66.7 L373.9,66.2 L374.8,65.8 L375.8,65.3 L376.8,64.9 L377.8,64.6 L378.7,64.3 L379.7,64.0 L380.6,63.8 L381.6,63.5 L382.5,63.3 L383.5,63.0 L384.4,62.8 L385.4,62.6 L386.3,62.4 L387.3,62.3 L388.2,62.1 L389.1,61.9 L390.1,61.8 L391.0,61.6 L392.0,61.5 L392.9,61.3 L393.9,61.2 L394.8,61.0 L395.8,60.9 L396.7,60.9 L397.7,60.8 L398.6,60.8 L399.9,70.8 L401.2,80.8 L402.2,74.3 L403.2,66.5 L404.3,63.8 L405.3,62.0 L406.4,61.3 L407.3,61.3 L408.3,61.3 L409.2,61.3 L410.2,61.3 L411.1,61.3 L412.1,61.3 L413.0,61.3 L414.0,61.3 L414.9,61.3 L415.9,61.3 L416.8,61.3 L417.7,61.3 L418.7,61.3 L419.6,61.3 L420.6,61.3 L421.5,61.3 L422.5,61.3 L423.4,61.3 L424.3,61.3 L425.3,61.3 L426.2,61.3 L427.2,61.3 L428.1,61.3 L429.1,61.3 L430.0,61.3 L430.9,61.3 L431.8,61.3 L432.7,61.4 L433.6,61.5 L434.6,61.5 L435.5,61.6 L436.4,61.8 L437.3,61.9 L438.2,62.0 L439.1,62.2 L440.0,62.4 L440.9,62.7 L441.9,63.1 L442.8,63.5 L443.7,64.0 L444.8,64.7 L445.8,65.2 L446.8,66.1 L447.9,67.7 L448.9,68.5 L449.9,70.2 L451.0,71.7 L452.0,72.6 L453.4,70.8 L454.7,69.5 L455.6,68.9 L456.6,68.7 L457.5,68.5 L458.5,69.4 L459.5,70.7 L460.4,73.1 L461.4,75.8 L462.3,78.1 L463.6,79.5 L465.0,79.5 L465.9,79.5 L466.9,79.6 L467.8,79.6 L469.1,77.2 L470.5,73.8 L471.4,72.2 L472.4,70.9 L473.3,70.8 L474.6,71.5 L476.0,73.1 L477.1,74.8 L478.1,76.4 L479.2,78.6 L480.3,81.2 L481.4,84.0 L482.5,87.3 L483.5,91.0 L484.6,94.7 L485.7,98.2 L486.7,101.6 L487.8,105.3 L488.9,109.4 L489.9,113.7 L491.0,118.1 L492.1,122.8 L493.1,126.6 L494.1,128.8 L495.2,129.8 L496.2,128.2 L497.3,124.5 L498.8,109.6 L499.9,97.3 L501.0,86.2 L502.4,76.1 L503.7,69.1 L504.8,65.6 L505.8,62.8 L506.9,61.7 L508.0,62.0 L509.0,62.8 L510.1,63.5 L511.2,63.8 L512.3,62.7 L513.3,60.7 L514.4,59.6 L515.5,59.8 L516.5,60.3 L517.5,61.0 L518.6,61.7 L519.7,62.5 L520.8,63.5 L521.8,64.6 L522.9,66.0 L524.0,67.7 L525.0,70.0 L526.0,72.6 L527.1,75.5 L528.0,79.5 L529.0,84.0 L529.9,86.2 L531.0,82.2 L532.0,77.7 L533.3,76.9 L534.6,76.6 L535.9,84.0 L537.1,91.5 L538.2,89.8 L539.3,86.2 L540.4,80.7 L541.5,74.0" stroke="#a93ef7" stroke-width="1.25"/>
<path d="M306.0,62.5 L307.6,67.0 L309.3,71.4 L310.4,73.5 L311.5,75.2 L312.6,76.7 L313.6,78.2 L314.7,79.5 L315.8,80.8 L316.9,82.1 L318.0,83.3 L319.1,84.5 L320.2,85.7 L321.3,86.8 L322.4,87.7 L323.3,88.2 L324.2,88.6 L325.1,88.8 L326.1,88.7 L327.0,88.4 L327.9,88.1 L328.9,87.7 L329.8,87.3 L330.7,86.8 L331.6,86.3 L332.6,85.7 L333.5,85.1 L334.4,84.5 L335.3,83.9 L336.3,83.3 L337.2,82.7 L338.2,82.1 L339.1,81.4 L340.1,80.8 L341.1,80.2 L342.0,79.5 L342.9,78.9 L343.8,78.2 L344.8,77.5 L345.7,76.9 L346.6,76.2 L347.5,75.5 L348.4,74.8 L349.4,74.1 L350.3,73.4 L351.3,72.7 L352.2,71.9 L353.2,71.2 L354.1,70.5 L355.1,69.8 L356.0,69.1 L357.0,68.5 L357.9,67.8 L358.8,67.2 L359.8,66.5 L360.7,65.9 L361.7,65.2 L362.6,64.6 L363.6,64.0 L364.5,63.4 L365.5,62.8 L366.4,62.3 L367.4,61.8 L368.3,61.3 L369.2,60.8 L370.2,60.4 L371.2,59.9 L372.1,59.5 L373.1,59.1 L374.0,58.7 L374.9,58.3 L375.9,58.0 L376.9,57.7 L377.8,57.4 L378.7,57.2 L379.7,57.0 L380.6,56.8 L381.6,56.6 L382.5,56.4 L383.5,56.3 L384.4,56.1 L385.4,56.0 L386.3,55.9 L387.3,55.7 L388.2,55.6 L389.1,55.5 L390.1,55.3 L391.0,55.1 L392.0,55.0 L392.9,54.8 L393.9,54.7 L394.8,54.6 L395.8,54.5 L396.7,54.4 L397.7,54.3 L398.6,54.3 L399.9,61.7 L401.2,69.1 L402.2,65.1 L403.2,60.0 L404.3,57.7 L405.3,56.0 L406.4,55.3 L407.3,55.3 L408.3,55.3 L409.2,55.3 L410.2,55.3 L411.1,55.3 L412.1,55.3 L413.0,55.3 L414.0,55.3 L414.9,55.3 L415.9,55.3 L416.8,55.3 L417.7,55.3 L418.7,55.3 L419.6,55.3 L420.6,55.4 L421.5,55.4 L422.5,55.4 L423.4,55.5 L424.3,55.5 L425.3,55.6 L426.2,55.6 L427.2,55.7 L428.1,55.7 L429.1,55.8 L430.0,55.8 L430.9,55.8 L431.8,55.9 L432.7,55.9 L433.6,55.9 L434.6,56.0 L435.5,56.0 L436.4,56.1 L437.3,56.1 L438.2,56.2 L439.1,56.3 L440.0,56.7 L440.9,56.8 L441.9,57.3 L442.8,57.7 L443.7,57.5 L444.8,58.8 L445.8,59.3 L446.8,60.1 L447.9,60.9 L449.0,62.1 L450.2,64.2 L451.3,65.7 L452.4,67.6 L453.4,67.8 L454.4,66.4 L455.4,64.4 L456.4,62.6 L457.5,61.8 L458.5,62.9 L459.5,64.9 L460.4,66.6 L461.4,68.0 L462.3,69.4 L463.6,70.0 L465.0,71.3 L465.9,70.8 L466.9,69.8 L467.8,69.3 L469.1,67.2 L470.5,65.3 L471.4,64.6 L472.4,65.0 L473.3,65.0 L474.6,65.0 L476.0,66.1 L477.1,67.1 L478.1,69.5 L479.2,72.3 L480.3,75.9 L481.4,79.8 L482.5,83.9 L483.5,88.4 L484.6,92.6 L485.7,96.1 L486.7,99.4 L487.8,103.2 L488.9,108.2 L489.9,113.8 L490.9,119.5 L492.0,124.5 L493.1,128.7 L494.1,130.9 L495.2,130.3 L496.3,128.7 L498.0,120.2 L499.5,101.1 L500.6,89.2 L501.6,79.8 L502.7,73.4 L503.7,68.4 L504.8,64.9 L505.9,62.4 L506.9,60.4 L508.0,59.6 L509.1,59.9 L510.1,60.3 L511.2,60.6 L512.3,59.8 L513.3,58.2 L514.4,57.4 L515.5,57.6 L516.5,58.0 L517.6,58.5 L518.6,59.2 L519.7,60.2 L520.8,61.4 L521.8,62.8 L522.9,64.4 L524.0,66.3 L525.0,68.6 L526.1,71.3 L527.2,76.2 L528.2,82.2 L529.3,85.1 L530.3,80.6 L531.4,75.5 L532.5,74.4 L533.5,73.7 L534.6,73.4 L535.9,80.8 L537.1,88.3 L538.8,81.9 L539.7,78.1 L540.6,74.0 L541.5,70.0" stroke="#ff3d96" stroke-width="1.2"/>
<path d="M319.1,62.6 L320.2,63.3 L321.3,64.1 L322.4,64.8 L323.5,65.4 L324.6,65.9 L325.6,66.4 L326.7,66.8 L327.8,67.0 L328.9,67.1 L330.0,67.1 L331.1,67.2 L332.2,67.2 L333.3,67.1 L334.4,66.9 L335.4,66.7 L336.5,66.5 L337.4,66.3 L338.3,66.2 L339.2,66.0 L340.2,65.9 L341.1,65.6 L342.0,65.4 L342.9,65.0 L343.8,64.6 L344.8,64.0 L345.7,63.4 L346.6,62.7 L347.5,62.1 L348.5,61.4 L349.4,60.6 L350.4,59.9 L351.4,59.0 L352.4,58.2 L353.4,57.5 L354.3,56.7 L355.3,56.1 L356.3,55.5 L357.2,55.0 L358.2,54.4 L359.2,53.9 L360.2,53.5 L361.2,53.0 L362.1,52.6 L363.1,52.2 L364.1,51.8 L365.1,51.4 L366.0,51.1 L367.0,50.7 L368.0,50.4 L368.9,50.1 L369.9,49.8 L370.9,49.6 L371.9,49.4 L372.9,49.2 L373.9,49.0 L374.8,48.8 L375.8,48.6 L376.8,48.5 L377.8,48.3 L378.7,48.1 L379.7,48.0 L380.6,47.8 L381.6,47.6 L382.5,47.4 L383.5,47.3 L384.4,47.1 L385.4,46.9 L386.3,46.8 L387.3,46.6 L388.2,46.5 L389.1,46.4 L390.1,46.2 L391.0,46.1 L392.0,46.0 L392.9,45.8 L393.9,45.7 L394.8,45.6 L395.8,45.5 L396.7,45.5 L397.7,45.4 L398.6,45.4 L399.9,54.6 L401.2,63.9 L402.2,58.8 L403.2,52.2 L404.3,49.4 L405.3,47.3 L406.4,46.5 L407.3,46.5 L408.3,46.5 L409.2,46.6 L410.2,46.7 L411.1,46.7 L412.1,46.8 L413.0,46.8 L414.0,46.9 L414.9,47.0 L415.9,47.0 L416.8,47.0 L417.7,47.0 L418.7,47.0 L419.6,47.0 L420.6,47.0 L421.5,47.0 L422.5,47.0 L423.4,47.0 L424.3,46.9 L425.3,46.9 L426.2,46.9 L427.2,46.9 L428.1,46.9 L429.1,46.9 L430.0,46.9 L430.9,46.9 L431.8,46.9 L432.7,47.0 L433.6,47.1 L434.6,47.1 L435.5,47.2 L436.4,47.4 L437.3,47.5 L438.2,47.6 L439.1,47.8 L440.0,47.5 L440.9,48.1 L441.9,48.4 L442.8,49.6 L443.7,49.1 L444.6,49.4 L445.5,51.3 L446.4,51.4 L447.4,51.6 L448.3,53.0 L449.2,53.0 L450.4,55.1 L451.5,57.2 L452.7,57.7 L454.0,55.9 L455.4,53.4 L456.4,53.0 L457.5,52.5 L458.5,54.8 L459.5,56.5 L460.4,58.0 L461.4,58.4 L462.3,58.8 L463.6,60.1 L465.0,60.6 L465.9,60.2 L466.9,59.6 L467.8,58.9 L469.1,56.7 L470.5,54.0 L471.4,54.1 L472.4,53.6 L473.3,53.0 L474.6,53.5 L476.0,54.8 L477.1,55.9 L478.1,58.2 L479.2,62.2 L480.3,66.7 L481.4,71.3 L482.5,74.3 L483.5,77.0 L484.6,79.8 L485.7,83.2 L486.7,86.8 L487.8,90.4 L488.9,94.0 L489.9,97.5 L491.0,101.1 L492.0,104.8 L493.1,108.4 L494.1,111.7 L495.2,115.1 L496.3,117.0 L498.0,113.8 L499.5,96.8 L501.0,81.9 L502.7,67.0 L503.8,61.0 L504.8,57.4 L505.9,55.7 L506.9,55.3 L508.0,55.0 L509.1,55.2 L510.1,54.9 L511.2,54.9 L512.2,54.5 L513.3,53.9 L514.4,53.6 L515.4,54.0 L516.5,54.4 L517.5,54.5 L518.6,54.7 L519.7,55.8 L520.7,56.8 L521.8,56.4 L522.9,57.8 L523.9,59.0 L525.0,60.0 L526.0,64.3 L527.1,69.1 L528.2,71.6 L529.3,73.8 L530.3,70.3 L531.4,66.0 L532.5,63.8 L533.5,62.8 L534.6,65.0 L535.6,69.1 L536.7,71.3 L537.8,69.7 L538.8,67.0 L539.7,64.8 L540.6,62.4 L541.5,60.0" stroke="#33ee44" stroke-width="1.3"/>
<path d="M305.2,61 L305.9,66 L306.5,62 L307.2,68 L307.8,64 L308.5,70 L309.1,67 L309.8,72" stroke="#ff3d96" stroke-width="1.0"/>
<path d="M301,61 L301.5,64 L302,61" stroke="#ff3d96" stroke-width="0.9"/>
</g>
<g clip-path="url(#cp_r2)" fill="none" stroke-linejoin="round" stroke-linecap="round">
<path d="M283.9,176.7 C285.8,176.8 287.7,176.9 289.6,177.0 C292.2,177.1 294.7,177.2 297.3,177.4 C299.8,177.6 302.4,178.1 304.9,178.6 C307.0,179.0 309.2,179.7 311.3,180.5 C313.4,181.3 315.5,182.9 317.6,183.7 C319.7,184.5 321.9,185.6 324.0,185.6 C325.3,185.6 326.5,185.3 327.8,185.0 C329.5,184.6 331.2,183.2 332.9,182.8 C335.0,182.3 337.2,181.8 339.3,181.8 C343.5,181.8 347.8,181.8 352.0,181.8 C361.3,181.8 370.7,181.3 380.0,181.3 C386.3,181.3 392.5,181.3 398.8,181.3 C399.6,181.3 400.5,185.0 401.3,185.0 C402.5,185.0 403.8,181.9 405.0,181.8 C410.0,181.4 415.0,181.3 420.0,181.3 C423.3,181.3 426.7,181.3 430.0,181.3 C433.0,181.3 436.0,181.3 439.0,181.3 C442.0,181.3 445.0,181.5 448.0,181.7 C449.5,181.8 451.0,182.8 452.5,182.8 C454.0,182.8 455.5,182.8 457.0,182.8 C458.0,182.8 459.0,184.3 460.0,185.0 C461.0,185.7 462.0,187.0 463.0,187.3 C464.3,187.7 465.5,187.6 466.8,188.0 C467.8,188.3 468.8,191.0 469.8,191.0 C470.5,191.0 471.3,187.2 472.0,186.5 C472.8,185.7 473.5,185.0 474.3,185.0 C475.0,185.0 475.8,185.9 476.5,186.5 C477.7,187.4 478.8,188.3 480.0,189.5 C481.4,191.0 482.8,192.6 484.2,195.1 C485.5,197.4 486.8,201.3 488.1,205.5 C489.2,209.0 490.2,214.4 491.3,218.7 C492.2,222.2 493.0,226.8 493.9,229.1 C494.8,231.4 495.6,234.4 496.5,234.4 C497.4,234.4 498.2,233.1 499.1,233.1 C499.8,233.1 500.5,236.4 501.2,237.0 C502.1,237.7 502.9,238.3 503.8,238.3 C504.5,238.3 505.2,235.1 505.9,231.8 C506.5,228.8 507.2,219.3 507.8,213.4 C508.7,205.3 509.5,197.2 510.4,189.8 C511.3,182.4 512.1,172.1 513.0,168.8 C513.9,165.5 514.7,162.3 515.6,162.3 C516.9,162.3 518.3,164.7 519.6,166.2 C520.9,167.7 522.2,169.2 523.5,171.5 C524.8,173.8 526.1,177.1 527.4,182.0 C528.3,185.4 529.2,191.4 530.1,197.7 C530.8,202.6 531.5,210.6 532.2,216.0 C532.6,219.4 533.1,225.2 533.5,225.2 C534.1,225.2 534.7,218.3 535.3,216.0 C536.0,213.3 536.7,209.5 537.4,209.5 C538.3,209.5 539.1,209.5 540.0,209.5 C540.7,209.5 541.4,206.8 542.1,205.5" stroke="#2a2a2a" stroke-width="1.0"/>
<path d="M283.9,159.5 C285.8,160.2 287.7,161.0 289.6,161.5 C291.3,162.0 293.0,162.2 294.7,162.7 C296.4,163.2 298.1,163.7 299.8,164.6 C301.3,165.4 302.8,167.3 304.3,169.1 C305.6,170.6 306.8,173.0 308.1,174.8 C309.6,176.8 311.0,179.1 312.5,180.5 C314.2,182.1 315.9,183.5 317.6,184.4 C319.3,185.3 321.0,185.8 322.7,186.3 C324.4,186.8 326.1,187.5 327.8,187.5 C329.5,187.5 331.2,187.2 332.9,186.9 C334.6,186.6 336.3,185.3 338.0,184.4 C339.7,183.5 341.4,182.4 343.1,181.2 C344.8,180.0 346.5,178.4 348.2,177.4 C349.5,176.6 350.7,176.2 352.0,175.5 C353.0,175.0 354.0,174.4 355.0,173.8 C357.5,172.3 360.0,170.9 362.5,169.3 C365.0,167.7 367.5,165.4 370.0,164.3 C373.3,162.8 376.7,161.7 380.0,161.0 C383.3,160.3 386.7,159.7 390.0,159.3 C392.9,159.0 395.9,158.5 398.8,158.5 C399.6,158.5 400.5,168.0 401.3,168.0 C402.1,168.0 403.0,165.5 403.8,164.3 C404.6,163.1 405.5,161.0 406.3,161.0 C410.9,161.0 415.4,161.4 420.0,161.8 C423.3,162.1 426.7,162.7 430.0,163.3 C432.5,163.7 435.0,164.1 437.5,164.8 C439.5,165.3 441.5,165.9 443.5,167.0 C445.0,167.8 446.5,169.7 448.0,171.5 C449.3,173.0 450.5,176.8 451.8,176.8 C452.5,176.8 453.3,176.4 454.0,176.0 C454.9,175.5 455.8,173.0 456.7,173.0 C457.6,173.0 458.4,175.8 459.3,177.5 C460.3,179.5 461.3,183.2 462.3,184.3 C463.3,185.4 464.3,186.5 465.3,186.5 C466.3,186.5 467.3,185.8 468.3,185.0 C469.3,184.2 470.3,180.0 471.3,178.3 C472.0,177.1 472.8,175.3 473.5,175.3 C474.3,175.3 475.0,175.6 475.8,176.0 C476.5,176.4 477.3,178.3 478.0,179.0 C478.7,179.6 479.3,179.7 480.0,180.5 C481.0,181.6 481.9,186.6 482.9,189.8 C484.2,194.1 485.5,197.2 486.8,202.9 C487.7,206.7 488.5,214.2 489.4,218.7 C490.3,223.2 491.1,228.2 492.0,230.5 C492.9,232.9 493.8,235.7 494.7,235.7 C495.6,235.7 496.4,233.9 497.3,231.8 C498.2,229.7 499.0,219.9 499.9,213.4 C500.8,206.9 501.6,198.0 502.5,192.4 C503.4,186.6 504.3,180.6 505.2,178.0 C506.1,175.5 506.9,172.8 507.8,172.8 C509.1,172.8 510.4,173.7 511.7,174.1 C513.0,174.5 514.3,175.0 515.6,175.4 C516.9,175.8 518.3,176.0 519.6,176.7 C520.9,177.3 522.2,179.1 523.5,180.6 C524.8,182.1 526.1,184.2 527.4,185.9 C528.5,187.3 529.5,189.8 530.6,189.8 C531.7,189.8 532.9,189.8 534.0,189.8 C534.9,189.8 535.7,198.0 536.6,200.3 C537.2,202.0 537.9,204.2 538.5,204.2 C539.2,204.2 539.8,201.8 540.5,200.3 C541.0,199.1 541.6,197.7 542.1,196.4" stroke="#a93ef7" stroke-width="1.25"/>
<path d="M283.9,158.7 L284.8,159.1 L285.8,159.4 L286.8,159.8 L287.7,160.2 L288.7,160.5 L289.6,160.8 L290.6,161.1 L291.6,161.5 L292.7,161.8 L293.7,162.0 L294.7,162.1 L295.6,162.1 L296.5,162.1 L297.4,162.1 L298.4,162.1 L299.3,162.1 L300.2,162.1 L301.1,162.1 L302.1,162.3 L303.0,162.9 L303.9,163.7 L304.9,164.6 L306.0,166.1 L307.0,168.2 L308.1,170.4 L309.2,172.9 L310.2,175.5 L311.3,178.0 L312.2,179.9 L313.2,181.8 L314.2,183.4 L315.1,185.0 L316.1,186.5 L317.0,187.9 L317.9,189.1 L318.9,190.1 L319.8,190.9 L320.8,191.7 L321.8,192.3 L322.7,192.6 L323.6,192.8 L324.6,192.9 L325.6,193.0 L326.5,193.0 L327.5,192.8 L328.4,192.5 L329.4,191.9 L330.4,191.4 L331.4,190.8 L332.4,190.1 L333.5,189.3 L334.5,188.4 L335.5,187.5 L336.5,186.6 L337.5,185.6 L338.5,184.6 L339.5,183.5 L340.5,182.5 L341.5,181.5 L342.5,180.4 L343.6,179.3 L344.6,178.3 L345.6,177.4 L346.5,176.7 L347.4,175.9 L348.3,175.3 L349.3,174.6 L350.2,174.0 L351.1,173.4 L352.0,172.9 L353.0,172.4 L354.0,172.0 L355.0,171.5 L355.9,171.0 L356.9,170.5 L357.8,169.9 L358.8,169.4 L359.7,168.8 L360.6,168.2 L361.6,167.5 L362.5,166.8 L363.4,166.0 L364.4,165.0 L365.3,164.0 L366.2,162.9 L367.2,161.8 L368.1,160.8 L369.1,159.9 L370.0,159.3 L370.9,158.8 L371.8,158.4 L372.7,158.0 L373.6,157.6 L374.5,157.2 L375.5,156.9 L376.4,156.6 L377.3,156.3 L378.2,156.0 L379.1,155.8 L380.0,155.5 L380.9,155.2 L381.8,155.0 L382.7,154.7 L383.6,154.5 L384.5,154.3 L385.5,154.0 L386.4,153.8 L387.3,153.6 L388.2,153.4 L389.1,153.2 L390.0,153.0 L391.0,152.8 L392.0,152.5 L392.9,152.3 L393.9,152.0 L394.9,151.8 L395.9,151.6 L396.8,151.4 L397.8,151.3 L398.8,151.3 L400.1,158.4 L401.3,165.5 L402.6,162.5 L403.8,158.0 L405.1,154.5 L406.3,152.5 L407.2,152.5 L408.1,152.5 L409.0,152.5 L410.0,152.5 L410.9,152.5 L411.8,152.5 L412.7,152.5 L413.6,152.5 L414.5,152.5 L415.4,152.5 L416.3,152.5 L417.3,152.5 L418.2,152.5 L419.1,152.5 L420.0,152.5 L420.9,152.5 L421.8,152.5 L422.7,152.5 L423.6,152.6 L424.5,152.6 L425.5,152.6 L426.4,152.6 L427.3,152.7 L428.2,152.7 L429.1,152.8 L430.0,152.8 L430.9,152.8 L431.9,152.9 L432.8,153.0 L433.8,153.1 L434.7,153.1 L435.6,153.2 L436.6,153.4 L437.5,153.5 L438.4,153.7 L439.3,153.9 L440.2,154.1 L441.1,154.8 L442.0,155.4 L442.9,155.5 L443.8,156.3 L444.7,157.6 L445.6,158.5 L446.5,159.2 L447.4,160.9 L448.4,163.0 L449.4,165.7 L450.3,167.2 L451.4,168.2 L452.5,169.6 L453.6,167.9 L454.8,164.9 L455.8,162.8 L456.7,161.8 L458.0,163.4 L459.3,166.6 L460.3,169.8 L461.3,172.1 L462.3,173.8 L463.3,175.1 L464.3,175.4 L465.3,176.3 L466.3,176.6 L467.3,176.4 L468.3,176.6 L469.4,174.0 L470.5,169.8 L471.6,167.0 L472.8,164.6 L473.9,163.7 L475.0,163.0 L476.0,164.0 L477.0,164.4 L478.0,165.5 L479.0,166.5 L480.0,168.1 L481.0,170.7 L481.9,175.0 L482.9,179.3 L483.9,183.2 L484.9,187.2 L485.8,191.1 L486.8,195.1 L487.8,199.0 L488.8,203.0 L489.7,206.9 L490.7,210.8 L492.0,216.7 L493.4,221.3 L494.7,224.0 L496.0,225.2 L497.3,223.2 L498.6,218.7 L499.9,209.5 L501.2,197.7 L502.3,189.0 L503.3,180.6 L504.4,174.1 L505.5,168.9 L506.7,164.6 L507.8,162.3 L508.8,161.4 L509.9,160.7 L510.9,160.2 L512.0,159.8 L513.0,159.7 L514.0,159.8 L515.0,160.1 L516.0,160.5 L517.0,161.0 L518.0,161.5 L519.1,162.2 L520.1,163.0 L521.2,163.9 L522.2,164.9 L523.2,165.9 L524.2,167.1 L525.1,168.6 L526.1,170.2 L527.2,173.5 L528.4,177.4 L529.5,179.3 L530.6,179.0 L531.6,178.3 L532.7,178.0 L533.7,181.1 L534.8,186.7 L535.8,189.8 L536.8,187.7 L537.9,184.6 L538.8,183.0 L539.7,181.6 L540.6,180.3 L541.5,179.0" stroke="#ff3d96" stroke-width="1.2"/>
<path d="M303.8,159.5 L304.8,159.9 L305.8,160.4 L306.7,160.8 L307.7,161.2 L308.7,161.5 L309.7,161.8 L310.7,162.0 L311.8,162.2 L312.8,162.4 L313.8,162.7 L314.8,163.2 L315.8,163.8 L316.9,164.5 L317.9,165.3 L318.9,165.9 L319.9,166.4 L320.9,166.9 L322.0,167.4 L323.0,167.9 L324.0,168.5 L325.0,169.2 L326.0,170.0 L327.1,170.8 L328.1,171.6 L329.1,172.3 L330.1,172.9 L331.0,173.5 L331.9,174.0 L332.9,174.2 L333.8,174.1 L334.8,173.8 L335.8,173.6 L336.7,173.5 L337.9,174.5 L339.0,175.5 L339.9,175.1 L340.9,174.3 L341.8,173.5 L342.8,172.7 L343.7,172.0 L344.7,171.2 L345.6,170.4 L346.9,169.3 L348.2,168.5 L349.1,168.3 L350.1,168.1 L351.1,168.0 L352.0,167.8 L353.0,167.3 L354.0,166.6 L355.0,166.0 L355.9,165.5 L356.9,165.1 L357.8,164.7 L358.8,164.3 L359.7,163.9 L360.6,163.5 L361.6,163.0 L362.5,162.5 L363.4,161.9 L364.3,161.1 L365.2,160.2 L366.1,159.3 L367.0,158.4 L367.9,157.6 L368.8,156.8 L369.8,156.0 L370.9,155.2 L371.9,154.4 L372.9,153.7 L374.0,153.1 L375.0,152.5 L376.0,152.0 L377.0,151.6 L378.0,151.2 L379.0,150.9 L380.0,150.5 L380.9,150.1 L381.8,149.8 L382.7,149.4 L383.6,149.1 L384.5,148.7 L385.5,148.4 L386.4,148.1 L387.3,147.7 L388.2,147.4 L389.1,147.1 L390.0,146.8 L391.0,146.5 L392.0,146.1 L392.9,145.7 L393.9,145.4 L394.9,145.0 L395.9,144.7 L396.8,144.5 L397.8,144.4 L398.8,144.3 L400.1,163.1 L401.3,181.8 L402.6,170.6 L403.8,155.5 L405.1,148.0 L406.3,144.3 L407.2,144.2 L408.1,144.1 L409.0,144.0 L410.0,143.9 L410.9,143.8 L411.8,143.7 L412.7,143.7 L413.6,143.6 L414.5,143.6 L415.4,143.6 L416.3,143.5 L417.3,143.5 L418.2,143.5 L419.1,143.5 L420.0,143.5 L420.9,143.5 L421.8,143.5 L422.7,143.5 L423.6,143.5 L424.5,143.6 L425.5,143.5 L426.4,144.3 L427.3,143.7 L428.2,143.8 L429.1,143.8 L430.0,143.0 L431.0,143.8 L432.0,143.4 L433.0,143.3 L434.0,144.7 L435.0,143.8 L436.0,144.5 L436.9,145.0 L437.8,145.0 L438.7,145.0 L439.6,145.6 L440.5,146.1 L441.4,147.0 L442.3,146.7 L443.2,148.2 L444.1,148.6 L445.0,149.4 L445.9,151.0 L446.8,151.3 L447.7,152.1 L448.6,153.2 L449.5,154.2 L450.5,154.4 L451.5,155.6 L452.5,155.8 L453.6,154.1 L454.8,152.3 L455.9,151.4 L457.0,151.4 L458.1,153.2 L459.3,157.2 L460.4,160.5 L461.5,163.1 L462.6,162.6 L463.8,160.6 L464.9,160.8 L466.0,161.0 L467.1,159.6 L468.3,156.7 L469.4,154.8 L470.5,153.4 L471.6,150.7 L472.8,149.4 L473.9,148.6 L475.0,149.3 L476.0,149.7 L477.0,150.5 L478.0,149.9 L479.0,151.5 L480.0,152.3 L481.0,153.5 L481.9,158.0 L482.9,161.0 L483.9,164.6 L484.9,168.4 L485.8,172.5 L486.8,176.7 L487.8,181.1 L488.8,185.8 L489.7,190.5 L490.7,195.1 L491.8,200.1 L492.8,204.9 L493.9,209.5 L494.9,214.5 L496.0,217.3 L497.1,216.2 L498.1,213.4 L499.9,192.4 L501.2,179.3 L502.5,168.8 L503.9,161.1 L505.2,156.4 L506.5,152.0 L507.8,151.2 L508.8,149.5 L509.8,149.0 L510.7,149.4 L511.7,148.9 L512.7,148.0 L513.6,148.9 L514.6,149.5 L515.6,149.7 L516.6,149.9 L517.6,150.5 L518.6,151.6 L519.6,151.0 L520.6,153.0 L521.5,154.5 L522.5,155.7 L523.5,158.1 L524.8,160.9 L526.1,163.6 L527.4,169.0 L528.7,174.9 L529.7,172.7 L530.6,168.8 L531.9,161.8 L533.2,157.0 L534.5,159.0 L535.8,161.0 L536.9,159.6 L538.1,157.1 L539.2,155.7 L540.5,156.2 L541.9,157.0" stroke="#33ee44" stroke-width="1.3"/>
</g>
<g clip-path="url(#cp_r3)" fill="none" stroke-linejoin="round" stroke-linecap="round">
<path d="M336.0,277.0 C336.7,277.3 337.3,277.6 338.0,277.9 C340.5,279.0 343.1,279.9 345.6,280.8 C347.7,281.6 349.9,282.5 352.0,283.0 C354.7,283.6 357.3,284.0 360.0,284.3 C363.3,284.7 366.7,285.0 370.0,285.3 C375.0,285.7 380.0,285.9 385.0,286.3 C389.6,286.7 394.2,286.6 398.8,288.0 C399.6,288.2 400.5,294.5 401.3,294.5 C402.5,294.5 403.8,289.5 405.0,289.5 C410.0,289.5 415.0,289.8 420.0,290.0 C423.3,290.1 426.7,290.4 430.0,290.6 C432.5,290.8 435.0,291.0 437.5,291.3 C440.0,291.6 442.5,292.3 445.0,292.3 C446.3,292.3 447.5,291.8 448.8,291.5 C449.6,291.3 450.5,291.0 451.3,291.0 C452.1,291.0 453.0,291.3 453.8,291.5 C454.8,291.8 455.9,292.6 456.9,293.1 C458.1,293.7 459.4,294.5 460.6,295.0 C461.7,295.4 462.7,295.9 463.8,296.0 C465.0,296.2 466.3,296.3 467.5,296.3 C468.3,296.3 469.2,295.6 470.0,295.6 C471.0,295.6 472.1,295.6 473.1,295.6 C473.9,295.6 474.8,296.0 475.6,296.3 C476.4,296.6 477.3,297.2 478.1,297.5 C478.7,297.7 479.4,297.8 480.0,298.1 C481.7,298.9 483.3,303.3 485.0,306.3 C486.3,308.6 487.5,311.1 488.8,313.8 C490.0,316.4 491.3,319.1 492.5,322.5 C493.5,325.3 494.5,329.0 495.5,332.5 C496.2,334.9 496.8,338.3 497.5,340.0 C497.9,341.1 498.4,342.5 498.8,342.5 C499.2,342.5 499.6,336.9 500.0,335.0 C500.4,332.9 500.9,330.0 501.3,330.0 C501.9,330.0 502.4,333.5 503.0,335.0 C503.5,336.4 504.0,338.8 504.5,338.8 C505.1,338.8 505.7,337.6 506.3,336.3 C507.1,334.5 508.0,328.1 508.8,323.8 C509.2,321.7 509.6,320.1 510.0,317.5 C510.7,313.2 511.3,305.7 512.0,300.0 C512.6,294.9 513.2,288.5 513.8,285.0 C514.4,281.7 514.9,278.1 515.5,277.5 C516.2,276.8 516.8,276.3 517.5,276.3 C518.8,276.3 520.0,278.2 521.3,280.0 C522.5,281.8 523.8,286.0 525.0,290.0 C526.3,294.1 527.5,298.9 528.8,305.0 C529.6,309.0 530.5,314.5 531.3,320.0 C531.9,323.8 532.4,332.5 533.0,332.5 C533.5,332.5 534.0,331.3 534.5,330.0 C535.1,328.5 535.7,322.6 536.3,320.0 C537.1,316.4 538.0,313.1 538.8,311.3 C539.6,309.5 540.5,308.1 541.3,307.5 C541.6,307.3 541.9,307.2 542.2,307.0" stroke="#2a2a2a" stroke-width="1.0"/>
<path d="M301.1,276.5 L302.2,277.7 L303.3,278.9 L304.4,280.2 L305.5,281.5 L306.6,282.9 L307.6,284.4 L308.7,285.9 L309.6,287.3 L310.6,288.8 L311.6,290.2 L312.5,291.6 L313.5,293.0 L314.4,294.3 L315.4,295.6 L316.4,296.7 L317.3,297.7 L318.3,298.6 L319.2,299.4 L320.2,299.9 L321.2,300.3 L322.2,300.7 L323.3,300.9 L324.3,301.1 L325.3,301.2 L326.3,301.2 L327.3,301.1 L328.4,301.1 L329.4,301.0 L330.4,300.9 L331.4,300.8 L332.4,300.6 L333.5,300.4 L334.5,300.2 L335.5,299.9 L336.5,299.5 L337.5,298.8 L338.5,298.1 L339.5,297.3 L340.5,296.6 L341.5,295.9 L342.5,295.3 L343.6,294.6 L344.6,294.0 L345.6,293.3 L346.5,292.7 L347.4,292.1 L348.3,291.5 L349.3,290.8 L350.2,290.2 L351.1,289.6 L352.0,289.0 L353.0,288.3 L354.0,287.7 L355.0,287.1 L356.0,286.4 L357.0,285.8 L358.0,285.2 L359.0,284.6 L360.0,284.0 L361.0,283.5 L362.0,282.9 L363.0,282.4 L364.0,281.8 L365.0,281.3 L365.9,280.8 L366.9,280.2 L367.8,279.7 L368.8,279.1 L369.7,278.6 L370.6,278.2 L371.6,277.8 L372.5,277.5 L373.4,277.3 L374.4,277.1 L375.3,276.9 L376.2,276.8 L377.2,276.7 L378.1,276.6 L379.1,276.4 L380.0,276.3 L380.9,276.2 L381.8,276.0 L382.7,275.9 L383.6,275.8 L384.5,275.6 L385.5,275.5 L386.4,275.4 L387.3,275.3 L388.2,275.2 L389.1,275.1 L390.0,275.0 L391.0,274.9 L392.0,274.8 L392.9,274.8 L393.9,274.7 L394.9,274.6 L395.9,274.6 L396.8,274.5 L397.8,274.5 L398.8,274.5 L400.1,277.9 L401.3,281.3 L402.6,278.9 L403.8,276.3 L404.8,276.0 L405.9,275.8 L406.9,275.7 L407.9,275.6 L409.0,275.5 L410.0,275.5 L410.9,275.5 L411.9,275.5 L412.8,275.6 L413.8,275.6 L414.7,275.7 L415.6,275.8 L416.6,275.9 L417.5,276.0 L418.4,276.1 L419.4,276.2 L420.3,276.3 L421.2,276.5 L422.2,276.6 L423.1,276.7 L424.1,276.9 L425.0,277.0 L426.0,277.2 L427.0,277.4 L428.0,277.7 L429.0,277.9 L430.0,278.1 L430.9,278.2 L431.8,278.4 L432.7,278.5 L433.6,278.6 L434.5,278.7 L435.4,278.8 L436.3,279.0 L437.3,279.2 L438.3,279.5 L439.3,279.8 L440.3,280.6 L441.3,280.3 L442.2,280.8 L443.1,281.0 L444.1,282.1 L445.0,282.3 L446.0,283.2 L447.1,284.8 L448.1,286.6 L449.4,288.5 L450.6,289.8 L451.6,290.6 L452.5,291.6 L453.4,290.4 L454.4,289.0 L455.4,286.9 L456.3,285.9 L457.2,286.6 L458.1,286.8 L459.4,288.5 L460.6,291.7 L461.9,293.2 L463.1,294.6 L464.4,294.7 L465.6,295.9 L466.9,296.1 L468.1,297.2 L469.1,296.2 L470.0,294.9 L471.2,293.1 L472.5,291.6 L473.4,290.2 L474.4,289.7 L475.4,290.5 L476.3,291.1 L477.2,292.1 L478.1,293.5 L479.1,294.5 L480.0,296.1 L481.2,301.2 L482.5,307.5 L483.8,311.3 L485.0,315.0 L486.2,319.8 L487.5,325.0 L488.8,329.9 L490.0,335.0 L491.0,339.8 L492.0,343.8 L492.9,346.3 L493.8,347.5 L495.1,346.4 L496.3,343.8 L498.0,335.0 L499.0,326.6 L500.0,317.5 L501.2,307.9 L502.5,300.0 L503.8,294.1 L505.0,290.0 L506.2,287.9 L507.5,286.3 L508.8,283.9 L510.0,282.5 L510.9,282.6 L511.9,283.0 L512.8,283.4 L513.8,283.8 L514.7,284.1 L515.6,284.4 L516.6,284.6 L517.5,285.0 L518.5,285.5 L519.4,286.0 L520.3,286.7 L521.3,287.5 L522.2,288.5 L523.1,289.6 L524.1,291.0 L525.0,292.5 L526.0,294.6 L527.0,296.9 L528.0,298.8 L529.2,300.5 L530.5,301.3 L531.8,300.1 L533.0,298.8 L534.2,301.1 L535.5,303.8 L536.8,304.6 L538.0,305.0 L539.2,303.6 L540.5,301.3 L542.0,298.8" stroke="#a93ef7" stroke-width="1.25"/>
<path d="M307.5,276.5 L308.4,278.1 L309.4,279.6 L310.4,281.2 L311.3,282.7 L312.2,284.2 L313.2,285.7 L314.2,287.2 L315.1,288.5 L316.1,289.7 L317.0,290.9 L317.9,292.0 L318.9,292.9 L319.8,293.6 L320.8,294.3 L321.8,294.8 L322.7,295.2 L323.6,295.5 L324.6,295.8 L325.6,296.0 L326.5,296.1 L327.5,296.0 L328.4,295.9 L329.4,295.7 L330.4,295.5 L331.4,295.2 L332.4,294.6 L333.5,294.0 L334.5,293.4 L335.5,292.7 L336.5,292.0 L337.5,291.3 L338.5,290.6 L339.5,289.8 L340.5,289.1 L341.5,288.4 L342.5,287.8 L343.6,287.2 L344.6,286.5 L345.6,285.9 L346.6,285.2 L347.6,284.6 L348.7,283.9 L349.7,283.2 L350.7,282.5 L351.8,281.6 L352.9,280.7 L353.9,279.8 L355.0,279.0 L355.9,278.4 L356.9,277.8 L357.8,277.2 L358.8,276.7 L359.7,276.1 L360.6,275.6 L361.6,275.1 L362.5,274.5 L363.4,273.9 L364.4,273.3 L365.3,272.7 L366.2,272.1 L367.2,271.5 L368.1,270.9 L369.1,270.4 L370.0,270.0 L370.9,269.6 L371.8,269.3 L372.7,269.0 L373.6,268.7 L374.5,268.4 L375.5,268.1 L376.4,267.9 L377.3,267.6 L378.2,267.4 L379.1,267.2 L380.0,267.0 L380.9,266.8 L381.8,266.6 L382.7,266.5 L383.6,266.3 L384.5,266.2 L385.5,266.0 L386.4,265.9 L387.3,265.8 L388.2,265.7 L389.1,265.6 L390.0,265.5 L391.0,265.4 L392.0,265.3 L392.9,265.3 L393.9,265.2 L394.9,265.1 L395.9,265.1 L396.8,265.0 L397.8,265.0 L398.8,265.0 L400.1,273.1 L401.3,281.3 L402.3,276.3 L403.3,270.0 L404.3,267.7 L405.3,266.1 L406.3,265.5 L407.2,265.5 L408.1,265.5 L409.0,265.5 L410.0,265.5 L410.9,265.5 L411.8,265.6 L412.7,265.6 L413.6,265.6 L414.5,265.6 L415.4,265.7 L416.3,265.7 L417.3,265.7 L418.2,265.7 L419.1,265.8 L420.0,265.8 L420.9,265.8 L421.8,265.9 L422.7,266.0 L423.6,266.0 L424.5,266.1 L425.5,266.2 L426.4,266.3 L427.3,266.4 L428.2,266.5 L429.1,266.5 L430.0,266.6 L430.9,266.6 L431.8,266.7 L432.7,266.7 L433.6,266.8 L434.5,266.8 L435.4,266.8 L436.3,266.9 L437.3,267.0 L438.3,267.1 L439.3,267.2 L440.3,267.1 L441.3,267.8 L442.2,267.6 L443.1,268.2 L444.1,268.5 L445.0,269.2 L445.9,269.6 L446.9,270.7 L447.9,271.5 L448.8,273.3 L450.1,275.1 L451.3,276.6 L452.2,277.7 L453.1,278.5 L454.1,276.5 L455.0,275.3 L455.9,273.3 L456.9,272.5 L458.1,274.3 L459.4,276.2 L460.6,278.4 L461.9,280.2 L463.1,281.4 L464.4,281.1 L465.6,281.6 L466.9,281.5 L468.1,280.5 L469.4,278.7 L470.6,276.8 L471.9,275.2 L473.1,274.8 L474.4,274.6 L475.6,276.0 L476.9,277.3 L477.9,279.1 L478.8,281.5 L480.0,285.3 L481.3,289.2 L482.6,295.2 L483.8,302.5 L485.1,309.1 L486.3,315.0 L487.6,319.7 L488.8,323.8 L490.1,327.7 L491.3,331.3 L492.6,335.0 L493.8,337.5 L495.1,338.4 L496.3,338.8 L498.0,332.5 L499.0,323.4 L500.0,312.5 L501.2,301.6 L502.5,292.5 L503.8,285.3 L505.0,280.0 L506.0,277.1 L507.0,274.7 L508.0,273.8 L508.9,273.8 L509.8,273.8 L510.7,273.8 L511.6,273.8 L512.5,273.8 L513.5,273.4 L514.4,272.6 L515.3,271.7 L516.3,271.3 L517.2,271.5 L518.1,272.1 L519.1,272.9 L520.0,273.8 L521.0,274.8 L521.9,275.9 L522.8,277.3 L523.8,278.8 L524.7,280.5 L525.6,282.5 L526.6,284.8 L527.5,287.5 L528.8,294.1 L530.0,298.8 L531.2,293.6 L532.5,287.5 L533.5,286.2 L534.5,285.3 L535.5,285.0 L536.5,290.0 L537.5,295.0 L538.5,293.3 L539.5,289.7 L540.5,286.3 L542.0,282.5" stroke="#ff3d96" stroke-width="1.2"/>
<path d="M312.0,276.5 L313.1,277.9 L314.2,279.4 L315.3,280.8 L316.4,282.1 L317.3,283.1 L318.3,284.1 L319.2,285.0 L320.2,285.9 L321.1,286.7 L322.1,287.5 L323.1,288.2 L324.0,288.8 L324.9,289.3 L325.9,289.9 L326.9,290.2 L327.8,290.4 L328.8,290.4 L329.8,290.3 L330.9,290.3 L331.9,290.2 L332.9,290.1 L333.9,289.9 L334.9,289.7 L336.0,289.3 L337.0,288.9 L338.0,288.5 L338.9,288.1 L339.9,287.6 L340.9,287.1 L341.8,286.5 L342.8,285.8 L343.7,284.9 L344.7,284.1 L345.6,283.4 L346.6,282.9 L347.6,282.5 L348.5,282.1 L349.5,281.7 L350.5,281.3 L351.5,280.9 L352.5,280.5 L353.4,280.1 L354.4,279.6 L355.3,279.1 L356.2,278.5 L357.2,278.0 L358.1,277.4 L359.1,276.9 L360.0,276.3 L360.9,275.8 L361.8,275.2 L362.7,274.7 L363.6,274.1 L364.5,273.6 L365.4,273.0 L366.3,272.5 L367.3,271.9 L368.4,271.2 L369.4,270.6 L370.4,270.0 L371.5,269.4 L372.5,268.8 L373.4,268.3 L374.4,267.8 L375.3,267.4 L376.2,266.9 L377.2,266.5 L378.1,266.1 L379.1,265.8 L380.0,265.5 L380.9,265.3 L381.8,265.1 L382.7,264.9 L383.6,264.7 L384.5,264.6 L385.5,264.4 L386.4,264.3 L387.3,264.1 L388.2,264.0 L389.1,263.9 L390.0,263.8 L391.0,263.7 L392.0,263.6 L392.9,263.4 L393.9,263.3 L394.9,263.2 L395.9,263.1 L396.8,263.1 L397.8,263.0 L398.8,263.0 L400.1,274.0 L401.3,285.0 L402.3,278.4 L403.3,270.0 L404.3,266.5 L405.3,264.0 L406.3,263.0 L407.2,263.0 L408.1,263.0 L409.0,263.0 L410.0,263.0 L410.9,263.0 L411.8,263.0 L412.7,263.0 L413.6,263.0 L414.5,263.0 L415.4,263.0 L416.3,263.0 L417.3,263.0 L418.2,263.0 L419.1,263.0 L420.0,263.0 L420.9,263.0 L421.8,263.0 L422.7,263.1 L423.6,263.1 L424.5,263.2 L425.5,263.2 L426.4,263.3 L427.3,263.3 L428.2,263.4 L429.1,263.5 L430.0,263.5 L430.9,263.5 L431.8,263.6 L432.7,263.6 L433.6,263.6 L434.5,263.7 L435.4,263.7 L436.3,263.8 L437.3,263.9 L438.3,264.1 L439.3,264.4 L440.3,264.9 L441.3,264.7 L442.2,265.1 L443.1,265.8 L444.1,266.7 L445.0,267.0 L445.9,268.3 L446.9,268.9 L447.9,270.9 L448.8,272.0 L449.8,272.8 L450.9,273.9 L451.9,275.7 L453.1,273.8 L454.4,272.3 L455.6,270.6 L456.9,270.4 L458.1,271.8 L459.4,273.8 L460.6,275.2 L461.9,276.9 L463.1,276.6 L464.4,277.2 L465.6,277.3 L466.9,278.0 L467.9,276.8 L468.8,275.6 L470.1,273.7 L471.3,271.5 L472.6,271.1 L473.8,270.6 L475.1,271.4 L476.3,272.1 L477.2,273.0 L478.1,274.3 L479.1,274.7 L480.0,276.1 L481.3,283.2 L482.6,288.7 L483.8,295.0 L485.1,301.6 L486.3,307.5 L487.6,311.5 L488.8,315.0 L490.1,318.8 L491.3,322.5 L492.6,326.6 L493.8,330.0 L495.1,332.5 L496.3,333.8 L498.0,330.0 L499.5,315.0 L500.4,303.1 L501.3,292.5 L502.6,283.7 L503.8,277.5 L505.1,272.6 L506.3,270.3 L507.6,267.7 L508.8,265.7 L509.7,267.0 L510.6,267.4 L511.6,267.5 L512.5,267.8 L513.5,267.7 L514.4,266.4 L515.3,266.5 L516.3,266.3 L517.2,267.0 L518.1,267.6 L519.1,268.4 L520.0,268.9 L521.0,270.3 L521.9,271.2 L522.8,272.6 L523.8,273.4 L525.0,275.3 L526.3,278.3 L528.0,286.1 L529.0,285.4 L530.0,285.5 L531.2,280.3 L532.5,276.3 L533.8,277.1 L535.0,278.8 L536.0,282.3 L537.0,285.0 L538.2,282.0 L539.5,277.5 L540.8,274.9 L542.0,272.5" stroke="#33ee44" stroke-width="1.3"/>
<path d="M306.5,282 L307.3,285.5 L308.2,283.5 L309,287.5" stroke="#a93ef7" stroke-width="1.6"/>
</g>
<line x1="21.6" y1="361.5" x2="21.6" y2="366.5" stroke="#1c1c1c" stroke-width="1.3"/>
<line x1="37.5" y1="361.5" x2="37.5" y2="364.0" stroke="#1c1c1c" stroke-width="1.3"/>
<line x1="53.5" y1="361.5" x2="53.5" y2="366.5" stroke="#1c1c1c" stroke-width="1.3"/>
<line x1="69.5" y1="361.5" x2="69.5" y2="364.0" stroke="#1c1c1c" stroke-width="1.3"/>
<line x1="84.5" y1="361.5" x2="84.5" y2="366.5" stroke="#1c1c1c" stroke-width="1.3"/>
<line x1="100.5" y1="361.5" x2="100.5" y2="364.0" stroke="#1c1c1c" stroke-width="1.3"/>
<line x1="116.5" y1="361.5" x2="116.5" y2="366.5" stroke="#1c1c1c" stroke-width="1.3"/>
<line x1="131.5" y1="361.5" x2="131.5" y2="364.0" stroke="#1c1c1c" stroke-width="1.3"/>
<line x1="147.5" y1="361.5" x2="147.5" y2="366.5" stroke="#1c1c1c" stroke-width="1.3"/>
<line x1="163.5" y1="361.5" x2="163.5" y2="364.0" stroke="#1c1c1c" stroke-width="1.3"/>
<line x1="179.5" y1="361.5" x2="179.5" y2="366.5" stroke="#1c1c1c" stroke-width="1.3"/>
<line x1="194.5" y1="361.5" x2="194.5" y2="364.0" stroke="#1c1c1c" stroke-width="1.3"/>
<line x1="210.5" y1="361.5" x2="210.5" y2="366.5" stroke="#1c1c1c" stroke-width="1.3"/>
<line x1="226.5" y1="361.5" x2="226.5" y2="364.0" stroke="#1c1c1c" stroke-width="1.3"/>
<line x1="242.5" y1="361.5" x2="242.5" y2="366.5" stroke="#1c1c1c" stroke-width="1.3"/>
<line x1="283.7" y1="355.5" x2="283.7" y2="361.3" stroke="#1c1c1c" stroke-width="1.3"/>
<line x1="301.5" y1="355.5" x2="301.5" y2="358.8" stroke="#1c1c1c" stroke-width="1.3"/>
<line x1="319.5" y1="355.5" x2="319.5" y2="361.3" stroke="#1c1c1c" stroke-width="1.3"/>
<line x1="337.5" y1="355.5" x2="337.5" y2="358.8" stroke="#1c1c1c" stroke-width="1.3"/>
<line x1="355.5" y1="355.5" x2="355.5" y2="361.3" stroke="#1c1c1c" stroke-width="1.3"/>
<line x1="373.5" y1="355.5" x2="373.5" y2="358.8" stroke="#1c1c1c" stroke-width="1.3"/>
<line x1="391.5" y1="355.5" x2="391.5" y2="361.3" stroke="#1c1c1c" stroke-width="1.3"/>
<line x1="409.5" y1="355.5" x2="409.5" y2="358.8" stroke="#1c1c1c" stroke-width="1.3"/>
<line x1="427.5" y1="355.5" x2="427.5" y2="361.3" stroke="#1c1c1c" stroke-width="1.3"/>
<line x1="445.5" y1="355.5" x2="445.5" y2="358.8" stroke="#1c1c1c" stroke-width="1.3"/>
<line x1="463.5" y1="355.5" x2="463.5" y2="361.3" stroke="#1c1c1c" stroke-width="1.3"/>
<line x1="481.5" y1="355.5" x2="481.5" y2="358.8" stroke="#1c1c1c" stroke-width="1.3"/>
<line x1="498.5" y1="355.5" x2="498.5" y2="361.3" stroke="#1c1c1c" stroke-width="1.3"/>
<line x1="516.5" y1="355.5" x2="516.5" y2="358.8" stroke="#1c1c1c" stroke-width="1.3"/>
<line x1="534.5" y1="355.5" x2="534.5" y2="361.3" stroke="#1c1c1c" stroke-width="1.3"/>
<line x1="542.0" y1="355.5" x2="542.0" y2="359.5" stroke="#2b2b2b" stroke-width="1.25"/>
<text x="21.9" y="377" font-size="10.3" text-anchor="middle" textLength="20.8" lengthAdjust="spacingAndGlyphs">4000</text>
<text x="284.0" y="373.9" font-size="12.2" text-anchor="middle" textLength="24.0" lengthAdjust="spacingAndGlyphs">4000</text>
<text x="53.3" y="377" font-size="10.3" text-anchor="middle" textLength="20.8" lengthAdjust="spacingAndGlyphs">3500</text>
<text x="319.8" y="373.9" font-size="12.2" text-anchor="middle" textLength="24.0" lengthAdjust="spacingAndGlyphs">3500</text>
<text x="84.8" y="377" font-size="10.3" text-anchor="middle" textLength="20.8" lengthAdjust="spacingAndGlyphs">3000</text>
<text x="355.6" y="373.9" font-size="12.2" text-anchor="middle" textLength="24.0" lengthAdjust="spacingAndGlyphs">3000</text>
<text x="116.2" y="377" font-size="10.3" text-anchor="middle" textLength="20.8" lengthAdjust="spacingAndGlyphs">2500</text>
<text x="391.5" y="373.9" font-size="12.2" text-anchor="middle" textLength="24.0" lengthAdjust="spacingAndGlyphs">2500</text>
<text x="147.7" y="377" font-size="10.3" text-anchor="middle" textLength="20.8" lengthAdjust="spacingAndGlyphs">2000</text>
<text x="427.3" y="373.9" font-size="12.2" text-anchor="middle" textLength="24.0" lengthAdjust="spacingAndGlyphs">2000</text>
<text x="179.1" y="377" font-size="10.3" text-anchor="middle" textLength="20.8" lengthAdjust="spacingAndGlyphs">1500</text>
<text x="463.1" y="373.9" font-size="12.2" text-anchor="middle" textLength="24.0" lengthAdjust="spacingAndGlyphs">1500</text>
<text x="210.6" y="377" font-size="10.3" text-anchor="middle" textLength="20.8" lengthAdjust="spacingAndGlyphs">1000</text>
<text x="498.9" y="373.9" font-size="12.2" text-anchor="middle" textLength="24.0" lengthAdjust="spacingAndGlyphs">1000</text>
<text x="242.0" y="377" font-size="10.3" text-anchor="middle" textLength="15.6" lengthAdjust="spacingAndGlyphs">500</text>
<text x="534.7" y="373.9" font-size="12.2" text-anchor="middle" textLength="18.0" lengthAdjust="spacingAndGlyphs">500</text>
<text x="81.5" y="392.8" font-size="13.2" textLength="111" lengthAdjust="spacingAndGlyphs">Wavenumbers (cm<tspan font-size="9" dy="-5">&#8722;1</tspan><tspan dy="5">)</tspan></text>
<text x="361.8" y="392" font-size="14" textLength="126.6" lengthAdjust="spacingAndGlyphs">Wavenumbers (cm<tspan font-size="10" dy="-5.5">&#8722;1</tspan><tspan dy="5.5">)</tspan></text>
<text transform="translate(13.3,262.7) rotate(-90)" font-size="13.2" textLength="116" lengthAdjust="spacingAndGlyphs">Transmittance (a.u.)</text>
<text transform="translate(271.8,278.6) rotate(-90)" font-size="14.6" textLength="132" lengthAdjust="spacingAndGlyphs">Transmittance (a.u.)</text>
<line x1="34.5" y1="11.3" x2="69.5" y2="11.3" stroke="#a93ef7" stroke-width="1.4"/>
<text x="73.8" y="16.3" font-size="12.9" textLength="27" lengthAdjust="spacingAndGlyphs">1day</text>
<line x1="34.9" y1="28.2" x2="69.5" y2="28.2" stroke="#2a2a2a" stroke-width="1.4"/>
<text x="73.8" y="33.1" font-size="12.9" textLength="37" lengthAdjust="spacingAndGlyphs">0 days</text>
<line x1="161.6" y1="11.4" x2="197.6" y2="11.4" stroke="#33ee44" stroke-width="1.4"/>
<text x="201" y="17" font-size="12.9" textLength="33.4" lengthAdjust="spacingAndGlyphs">5days</text>
<line x1="161.6" y1="28.6" x2="197.6" y2="28.6" stroke="#ff3d96" stroke-width="1.4"/>
<text x="201" y="33.8" font-size="12.9" textLength="33.4" lengthAdjust="spacingAndGlyphs">3days</text>
<line x1="303.4" y1="12.2" x2="343.6" y2="12.2" stroke="#a93ef7" stroke-width="1.4"/>
<text x="347.9" y="18.2" font-size="14.6" textLength="31.8" lengthAdjust="spacingAndGlyphs">1day</text>
<line x1="303.4" y1="25.4" x2="343.6" y2="25.4" stroke="#2a2a2a" stroke-width="1.4"/>
<text x="347.9" y="31.2" font-size="14.6" textLength="42.4" lengthAdjust="spacingAndGlyphs">0 days</text>
<line x1="446.5" y1="12.7" x2="487.8" y2="12.7" stroke="#33ee44" stroke-width="1.4"/>
<text x="490.8" y="18.5" font-size="14.6" textLength="38.7" lengthAdjust="spacingAndGlyphs">5days</text>
<line x1="446.5" y1="28.2" x2="487.8" y2="28.2" stroke="#ff3d96" stroke-width="1.4"/>
<text x="490.8" y="34.0" font-size="14.6" textLength="38.7" lengthAdjust="spacingAndGlyphs">3days</text>
<rect x="25.2" y="41.3" width="29.1" height="18.2" fill="#000"/>
<rect x="21.9" y="37.5" width="28.7" height="18.1" fill="#fff" stroke="#c8c8c8" stroke-width="0.6"/>
<rect x="22.5" y="55.6" width="2.4" height="3.5" fill="#fff" stroke="#d0d0d0" stroke-width="0.5"/>
<text x="25.0" y="52.3" font-size="13.2" textLength="24" lengthAdjust="spacingAndGlyphs">nAk</text>
<rect x="25.9" y="132.3" width="54.5" height="17.8" fill="#000"/>
<rect x="21.9" y="128.1" width="54.9" height="18.8" fill="#fff" stroke="#c8c8c8" stroke-width="0.6"/>
<rect x="22.5" y="146.9" width="3.1" height="2.8" fill="#fff" stroke="#d0d0d0" stroke-width="0.5"/>
<text x="26.9" y="143.3" font-size="13.2" textLength="47" lengthAdjust="spacingAndGlyphs">nSiCa60</text>
<rect x="25.2" y="208.2" width="55.1" height="18.7" fill="#000"/>
<rect x="21.9" y="204.6" width="54.8" height="18.8" fill="#fff" stroke="#c8c8c8" stroke-width="0.6"/>
<rect x="22.5" y="223.4" width="2.4" height="3.1" fill="#fff" stroke="#d0d0d0" stroke-width="0.5"/>
<text x="27.2" y="219.3" font-size="13.2" textLength="46.9" lengthAdjust="spacingAndGlyphs">nSiCa50</text>
<rect x="25.1" y="287.1" width="21.8" height="18.4" fill="#000"/>
<rect x="21.9" y="283.2" width="21.2" height="18.9" fill="#fff" stroke="#c8c8c8" stroke-width="0.6"/>
<rect x="22.5" y="302.1" width="2.3" height="3.0" fill="#fff" stroke="#d0d0d0" stroke-width="0.5"/>
<text x="24.4" y="298.4" font-size="13.6" textLength="17.2" lengthAdjust="spacingAndGlyphs">nSi</text>
<rect x="288.2" y="41.5" width="70.0" height="20.9" fill="#000"/>
<rect x="284.0" y="37.3" width="70.0" height="20.9" fill="#fff" stroke="#c8c8c8" stroke-width="0.6"/>
<rect x="284.6" y="58.2" width="3.3" height="3.8" fill="#fff" stroke="#d0d0d0" stroke-width="0.5"/>
<text x="289.5" y="54.1" font-size="15.0" textLength="60.5" lengthAdjust="spacingAndGlyphs">nAkCuSr</text>
<rect x="287.9" y="139.9" width="48.6" height="20.7" fill="#000"/>
<rect x="284.0" y="135.9" width="47.0" height="20.4" fill="#fff" stroke="#c8c8c8" stroke-width="0.6"/>
<rect x="284.6" y="156.3" width="3.0" height="3.9" fill="#fff" stroke="#d0d0d0" stroke-width="0.5"/>
<text x="287.9" y="152.5" font-size="15.8" textLength="42.2" lengthAdjust="spacingAndGlyphs">nAkSr</text>
<rect x="287.9" y="256.8" width="52.7" height="20.2" fill="#000"/>
<rect x="284.0" y="252.6" width="52.7" height="20.9" fill="#fff" stroke="#c8c8c8" stroke-width="0.6"/>
<rect x="284.6" y="273.5" width="3.0" height="3.1" fill="#fff" stroke="#d0d0d0" stroke-width="0.5"/>
<text x="287.4" y="269.6" font-size="15.8" textLength="46.9" lengthAdjust="spacingAndGlyphs">nAkCu</text>
<line x1="21.6" y1="36.9" x2="21.6" y2="362.1" stroke="#2a2a2a" stroke-width="1.3"/>
<line x1="248.5" y1="36.9" x2="248.5" y2="362.1" stroke="#2a2a2a" stroke-width="1.1"/>
<line x1="21.0" y1="37.5" x2="249.1" y2="37.5" stroke="#2a2a2a" stroke-width="1.1"/>
<line x1="21.0" y1="361.5" x2="249.1" y2="361.5" stroke="#2a2a2a" stroke-width="1.1"/>
<line x1="21.0" y1="128.0" x2="249.1" y2="128.0" stroke="#3c3c3c" stroke-width="1.4"/>
<line x1="21.0" y1="204.6" x2="249.1" y2="204.6" stroke="#333" stroke-width="1.2"/>
<line x1="21.0" y1="283.6" x2="249.1" y2="283.6" stroke="#333" stroke-width="1.2"/>
<line x1="283.7" y1="36.9" x2="283.7" y2="356.1" stroke="#2a2a2a" stroke-width="1.3"/>
<line x1="542.0" y1="36.9" x2="542.0" y2="356.1" stroke="#2a2a2a" stroke-width="1.3"/>
<line x1="283.0" y1="37.5" x2="542.7" y2="37.5" stroke="#2a2a2a" stroke-width="1.1"/>
<line x1="283.0" y1="355.5" x2="542.7" y2="355.5" stroke="#2a2a2a" stroke-width="1.1"/>
<line x1="283.0" y1="136.3" x2="542.7" y2="136.3" stroke="#262626" stroke-width="1.2"/>
<line x1="283.0" y1="252.4" x2="542.7" y2="252.4" stroke="#262626" stroke-width="1.3"/>
<line x1="284.4" y1="136.3" x2="331.0" y2="136.3" stroke="#9a9a9a" stroke-width="1.2"/>
<line x1="284.4" y1="37.5" x2="353.6" y2="37.5" stroke="#666" stroke-width="1.1"/>
</svg></body></html>
